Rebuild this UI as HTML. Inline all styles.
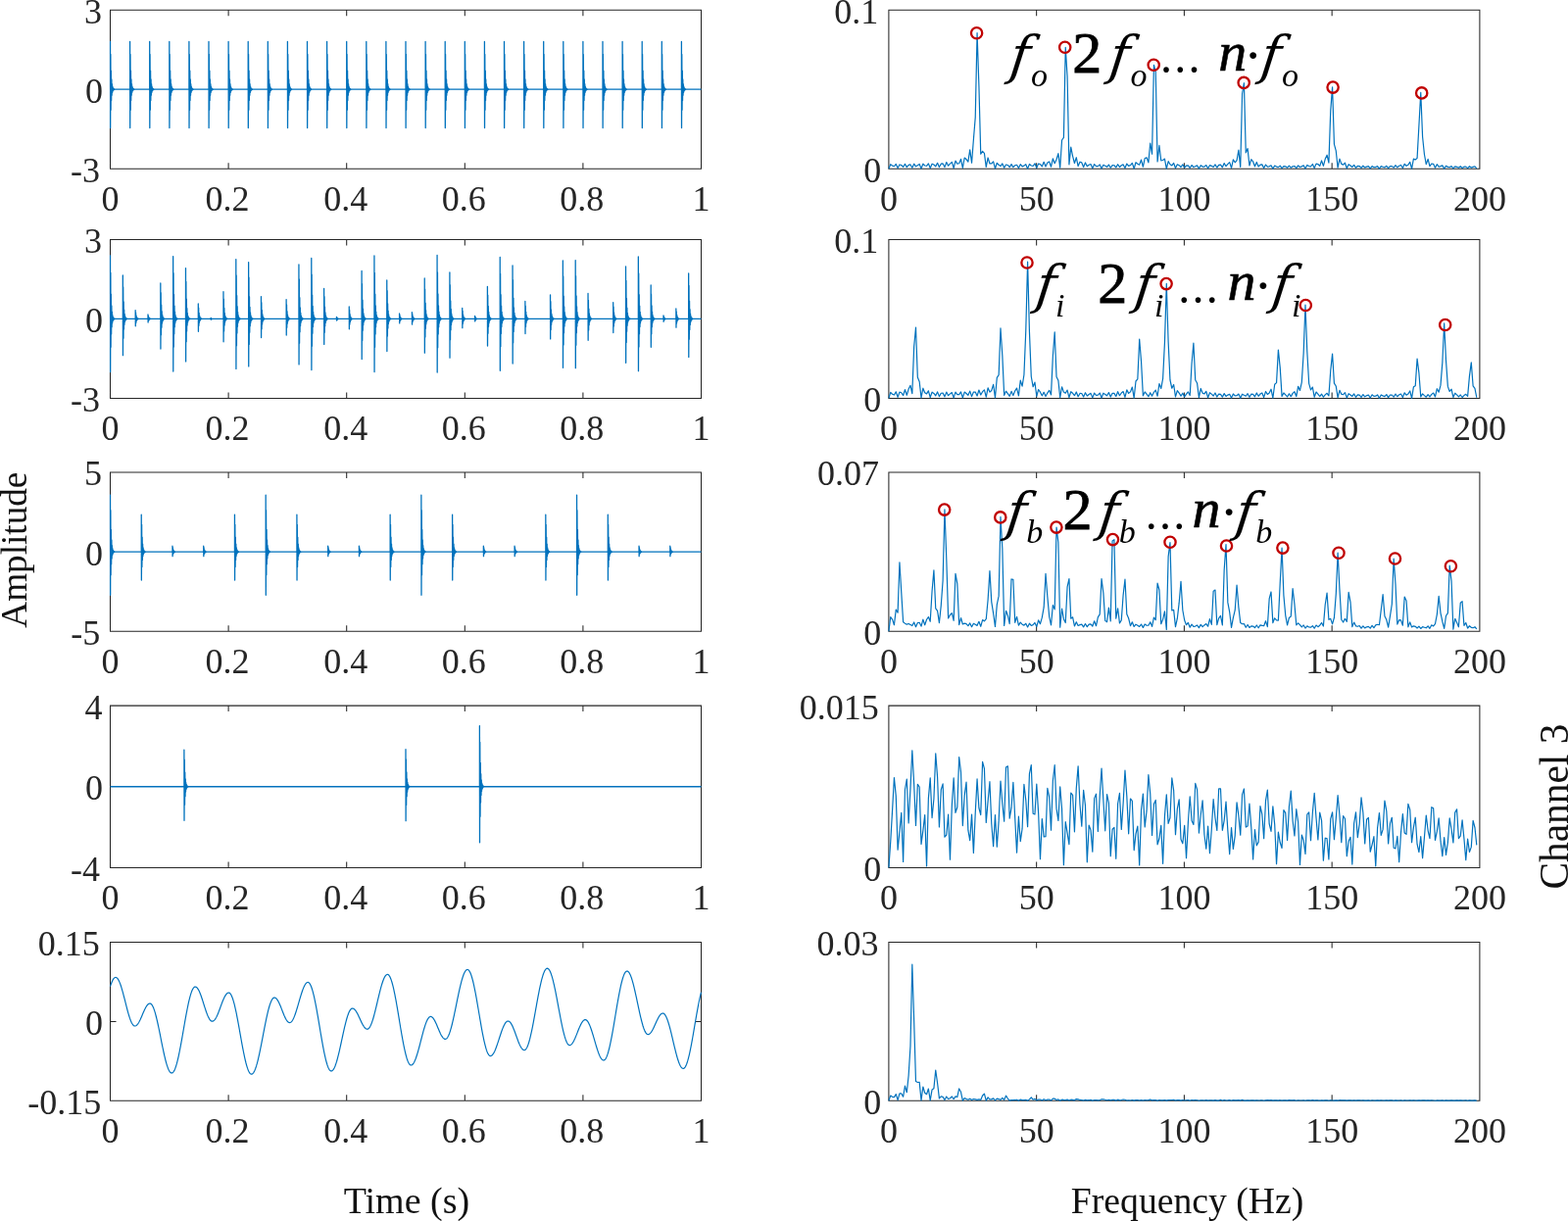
<!DOCTYPE html><html><head><meta charset="utf-8"><title>Bearing fault signals</title><style>html,body{margin:0;padding:0;background:#fff;overflow:hidden;}svg{display:block;}</style></head><body>
<svg width="1600" height="1246" viewBox="0 0 1600 1246" font-family="'Liberation Serif', 'Times New Roman', serif" font-size="36" fill="#262626">
<rect width="1600" height="1246" fill="#fff"/>
<defs>
<clipPath id="cl0"><rect x="111.5" y="9.2" width="605" height="164"/></clipPath>
<clipPath id="cr0"><rect x="905.9" y="9.2" width="605" height="164"/></clipPath>
<clipPath id="cl1"><rect x="111.5" y="243.4" width="605" height="164"/></clipPath>
<clipPath id="cr1"><rect x="905.9" y="243.4" width="605" height="164"/></clipPath>
<clipPath id="cl2"><rect x="111.5" y="481" width="605" height="164.3"/></clipPath>
<clipPath id="cr2"><rect x="905.9" y="481" width="605" height="164.3"/></clipPath>
<clipPath id="cl3"><rect x="111.5" y="719.1" width="605" height="167.3"/></clipPath>
<clipPath id="cr3"><rect x="905.9" y="719.1" width="605" height="167.3"/></clipPath>
<clipPath id="cl4"><rect x="111.5" y="960.5" width="605" height="163.8"/></clipPath>
<clipPath id="cr4"><rect x="905.9" y="960.5" width="605" height="163.8"/></clipPath>
</defs>
<path d="M112.5,10.2H715.5V172.2H112.5ZM112.5,172.2v-6M112.5,10.2v6M233.1,172.2v-6M233.1,10.2v6M353.7,172.2v-6M353.7,10.2v6M474.3,172.2v-6M474.3,10.2v6M594.9,172.2v-6M594.9,10.2v6M715.5,172.2v-6M715.5,10.2v6M112.5,10.2h6M715.5,10.2h-6M112.5,172.2h6M715.5,172.2h-6" fill="none" stroke="#262626" stroke-width="1.05"/>
<path d="M906.9,10.2H1509.9V172.2H906.9ZM906.9,172.2v-6M906.9,10.2v6M1057.65,172.2v-6M1057.65,10.2v6M1208.4,172.2v-6M1208.4,10.2v6M1359.15,172.2v-6M1359.15,10.2v6M1509.9,172.2v-6M1509.9,10.2v6M906.9,10.2h6M1509.9,10.2h-6M906.9,172.2h6M1509.9,172.2h-6" fill="none" stroke="#262626" stroke-width="1.05"/>
<path d="M112.5,244.4H715.5V406.4H112.5ZM112.5,406.4v-6M112.5,244.4v6M233.1,406.4v-6M233.1,244.4v6M353.7,406.4v-6M353.7,244.4v6M474.3,406.4v-6M474.3,244.4v6M594.9,406.4v-6M594.9,244.4v6M715.5,406.4v-6M715.5,244.4v6M112.5,244.4h6M715.5,244.4h-6M112.5,406.4h6M715.5,406.4h-6" fill="none" stroke="#262626" stroke-width="1.05"/>
<path d="M906.9,244.4H1509.9V406.4H906.9ZM906.9,406.4v-6M906.9,244.4v6M1057.65,406.4v-6M1057.65,244.4v6M1208.4,406.4v-6M1208.4,244.4v6M1359.15,406.4v-6M1359.15,244.4v6M1509.9,406.4v-6M1509.9,244.4v6M906.9,244.4h6M1509.9,244.4h-6M906.9,406.4h6M1509.9,406.4h-6" fill="none" stroke="#262626" stroke-width="1.05"/>
<path d="M112.5,482H715.5V644.3H112.5ZM112.5,644.3v-6M112.5,482v6M233.1,644.3v-6M233.1,482v6M353.7,644.3v-6M353.7,482v6M474.3,644.3v-6M474.3,482v6M594.9,644.3v-6M594.9,482v6M715.5,644.3v-6M715.5,482v6M112.5,482h6M715.5,482h-6M112.5,644.3h6M715.5,644.3h-6" fill="none" stroke="#262626" stroke-width="1.05"/>
<path d="M906.9,482H1509.9V644.3H906.9ZM906.9,644.3v-6M906.9,482v6M1057.65,644.3v-6M1057.65,482v6M1208.4,644.3v-6M1208.4,482v6M1359.15,644.3v-6M1359.15,482v6M1509.9,644.3v-6M1509.9,482v6M906.9,482h6M1509.9,482h-6M906.9,644.3h6M1509.9,644.3h-6" fill="none" stroke="#262626" stroke-width="1.05"/>
<path d="M112.5,720.1H715.5V885.4H112.5ZM112.5,885.4v-6M112.5,720.1v6M233.1,885.4v-6M233.1,720.1v6M353.7,885.4v-6M353.7,720.1v6M474.3,885.4v-6M474.3,720.1v6M594.9,885.4v-6M594.9,720.1v6M715.5,885.4v-6M715.5,720.1v6M112.5,720.1h6M715.5,720.1h-6M112.5,885.4h6M715.5,885.4h-6" fill="none" stroke="#262626" stroke-width="1.05"/>
<path d="M906.9,720.1H1509.9V885.4H906.9ZM906.9,885.4v-6M906.9,720.1v6M1057.65,885.4v-6M1057.65,720.1v6M1208.4,885.4v-6M1208.4,720.1v6M1359.15,885.4v-6M1359.15,720.1v6M1509.9,885.4v-6M1509.9,720.1v6M906.9,720.1h6M1509.9,720.1h-6M906.9,885.4h6M1509.9,885.4h-6" fill="none" stroke="#262626" stroke-width="1.05"/>
<path d="M112.5,961.5H715.5V1123.3H112.5ZM112.5,1123.3v-6M112.5,961.5v6M233.1,1123.3v-6M233.1,961.5v6M353.7,1123.3v-6M353.7,961.5v6M474.3,1123.3v-6M474.3,961.5v6M594.9,1123.3v-6M594.9,961.5v6M715.5,1123.3v-6M715.5,961.5v6M112.5,961.5h6M715.5,961.5h-6M112.5,1123.3h6M715.5,1123.3h-6M112.5,1042.4h6M715.5,1042.4h-6" fill="none" stroke="#262626" stroke-width="1.05"/>
<path d="M906.9,961.5H1509.9V1123.3H906.9ZM906.9,1123.3v-6M906.9,961.5v6M1057.65,1123.3v-6M1057.65,961.5v6M1208.4,1123.3v-6M1208.4,961.5v6M1359.15,1123.3v-6M1359.15,961.5v6M1509.9,1123.3v-6M1509.9,961.5v6M906.9,961.5h6M1509.9,961.5h-6M906.9,1123.3h6M1509.9,1123.3h-6" fill="none" stroke="#262626" stroke-width="1.05"/>
<polyline points="112.5,91.2 112.5,91.2 112.5,42.4 112.62,130.58 112.87,55.5 113.12,112.28 113.37,72.09 113.62,102.48 113.87,80.97 114.12,97.24 114.37,85.72 114.62,94.43 114.87,88.27 115.12,92.93 115.37,89.63 115.62,92.13 115.87,90.36 116.12,91.7 116.37,90.75 116.62,91.47 116.87,91.2 132.6,91.2 132.6,42.4 132.72,130.58 132.97,55.5 133.22,112.28 133.47,72.09 133.72,102.48 133.97,80.97 134.22,97.24 134.47,85.72 134.72,94.43 134.97,88.27 135.22,92.93 135.47,89.63 135.72,92.13 135.97,90.36 136.22,91.7 136.47,90.75 136.72,91.47 136.97,91.2 152.7,91.2 152.7,42.4 152.82,130.58 153.07,55.5 153.32,112.28 153.57,72.09 153.82,102.48 154.07,80.97 154.32,97.24 154.57,85.72 154.82,94.43 155.07,88.27 155.32,92.93 155.57,89.63 155.82,92.13 156.07,90.36 156.32,91.7 156.57,90.75 156.82,91.47 157.07,91.2 172.8,91.2 172.8,42.4 172.92,130.58 173.17,55.5 173.42,112.28 173.67,72.09 173.92,102.48 174.17,80.97 174.42,97.24 174.67,85.72 174.92,94.43 175.17,88.27 175.42,92.93 175.67,89.63 175.92,92.13 176.17,90.36 176.42,91.7 176.67,90.75 176.92,91.47 177.17,91.2 192.9,91.2 192.9,42.4 193.02,130.58 193.27,55.5 193.52,112.28 193.77,72.09 194.02,102.48 194.27,80.97 194.52,97.24 194.77,85.72 195.02,94.43 195.27,88.27 195.52,92.93 195.77,89.63 196.02,92.13 196.27,90.36 196.52,91.7 196.77,90.75 197.02,91.47 197.27,91.2 213,91.2 213,42.4 213.12,130.58 213.37,55.5 213.62,112.28 213.87,72.09 214.12,102.48 214.37,80.97 214.62,97.24 214.87,85.72 215.12,94.43 215.37,88.27 215.62,92.93 215.87,89.63 216.12,92.13 216.37,90.36 216.62,91.7 216.87,90.75 217.12,91.47 217.37,91.2 233.1,91.2 233.1,42.4 233.22,130.58 233.47,55.5 233.72,112.28 233.97,72.09 234.22,102.48 234.47,80.97 234.72,97.24 234.97,85.72 235.22,94.43 235.47,88.27 235.72,92.93 235.97,89.63 236.22,92.13 236.47,90.36 236.72,91.7 236.97,90.75 237.22,91.47 237.47,91.2 253.2,91.2 253.2,42.4 253.32,130.58 253.57,55.5 253.82,112.28 254.07,72.09 254.32,102.48 254.57,80.97 254.82,97.24 255.07,85.72 255.32,94.43 255.57,88.27 255.82,92.93 256.07,89.63 256.32,92.13 256.57,90.36 256.82,91.7 257.07,90.75 257.32,91.47 257.57,91.2 273.3,91.2 273.3,42.4 273.42,130.58 273.67,55.5 273.92,112.28 274.17,72.09 274.42,102.48 274.67,80.97 274.92,97.24 275.17,85.72 275.42,94.43 275.67,88.27 275.92,92.93 276.17,89.63 276.42,92.13 276.67,90.36 276.92,91.7 277.17,90.75 277.42,91.47 277.67,91.2 293.4,91.2 293.4,42.4 293.52,130.58 293.77,55.5 294.02,112.28 294.27,72.09 294.52,102.48 294.77,80.97 295.02,97.24 295.27,85.72 295.52,94.43 295.77,88.27 296.02,92.93 296.27,89.63 296.52,92.13 296.77,90.36 297.02,91.7 297.27,90.75 297.52,91.47 297.77,91.2 313.5,91.2 313.5,42.4 313.62,130.58 313.87,55.5 314.12,112.28 314.37,72.09 314.62,102.48 314.87,80.97 315.12,97.24 315.37,85.72 315.62,94.43 315.87,88.27 316.12,92.93 316.37,89.63 316.62,92.13 316.87,90.36 317.12,91.7 317.37,90.75 317.62,91.47 317.87,91.2 333.6,91.2 333.6,42.4 333.72,130.58 333.97,55.5 334.22,112.28 334.47,72.09 334.72,102.48 334.97,80.97 335.22,97.24 335.47,85.72 335.72,94.43 335.97,88.27 336.22,92.93 336.47,89.63 336.72,92.13 336.97,90.36 337.22,91.7 337.47,90.75 337.72,91.47 337.97,91.2 353.7,91.2 353.7,42.4 353.82,130.58 354.07,55.5 354.32,112.28 354.57,72.09 354.82,102.48 355.07,80.97 355.32,97.24 355.57,85.72 355.82,94.43 356.07,88.27 356.32,92.93 356.57,89.63 356.82,92.13 357.07,90.36 357.32,91.7 357.57,90.75 357.82,91.47 358.07,91.2 373.8,91.2 373.8,42.4 373.92,130.58 374.17,55.5 374.42,112.28 374.67,72.09 374.92,102.48 375.17,80.97 375.42,97.24 375.67,85.72 375.92,94.43 376.17,88.27 376.42,92.93 376.67,89.63 376.92,92.13 377.17,90.36 377.42,91.7 377.67,90.75 377.92,91.47 378.17,91.2 393.9,91.2 393.9,42.4 394.02,130.58 394.27,55.5 394.52,112.28 394.77,72.09 395.02,102.48 395.27,80.97 395.52,97.24 395.77,85.72 396.02,94.43 396.27,88.27 396.52,92.93 396.77,89.63 397.02,92.13 397.27,90.36 397.52,91.7 397.77,90.75 398.02,91.47 398.27,91.2 414,91.2 414,42.4 414.12,130.58 414.37,55.5 414.62,112.28 414.87,72.09 415.12,102.48 415.37,80.97 415.62,97.24 415.87,85.72 416.12,94.43 416.37,88.27 416.62,92.93 416.87,89.63 417.12,92.13 417.37,90.36 417.62,91.7 417.87,90.75 418.12,91.47 418.37,91.2 434.1,91.2 434.1,42.4 434.22,130.58 434.47,55.5 434.72,112.28 434.97,72.09 435.22,102.48 435.47,80.97 435.72,97.24 435.97,85.72 436.22,94.43 436.47,88.27 436.72,92.93 436.97,89.63 437.22,92.13 437.47,90.36 437.72,91.7 437.97,90.75 438.22,91.47 438.47,91.2 454.2,91.2 454.2,42.4 454.32,130.58 454.57,55.5 454.82,112.28 455.07,72.09 455.32,102.48 455.57,80.97 455.82,97.24 456.07,85.72 456.32,94.43 456.57,88.27 456.82,92.93 457.07,89.63 457.32,92.13 457.57,90.36 457.82,91.7 458.07,90.75 458.32,91.47 458.57,91.2 474.3,91.2 474.3,42.4 474.42,130.58 474.67,55.5 474.92,112.28 475.17,72.09 475.42,102.48 475.67,80.97 475.92,97.24 476.17,85.72 476.42,94.43 476.67,88.27 476.92,92.93 477.17,89.63 477.42,92.13 477.67,90.36 477.92,91.7 478.17,90.75 478.42,91.47 478.67,91.2 494.4,91.2 494.4,42.4 494.52,130.58 494.77,55.5 495.02,112.28 495.27,72.09 495.52,102.48 495.77,80.97 496.02,97.24 496.27,85.72 496.52,94.43 496.77,88.27 497.02,92.93 497.27,89.63 497.52,92.13 497.77,90.36 498.02,91.7 498.27,90.75 498.52,91.47 498.77,91.2 514.5,91.2 514.5,42.4 514.62,130.58 514.87,55.5 515.12,112.28 515.37,72.09 515.62,102.48 515.87,80.97 516.12,97.24 516.37,85.72 516.62,94.43 516.87,88.27 517.12,92.93 517.37,89.63 517.62,92.13 517.87,90.36 518.12,91.7 518.37,90.75 518.62,91.47 518.87,91.2 534.6,91.2 534.6,42.4 534.72,130.58 534.97,55.5 535.22,112.28 535.47,72.09 535.72,102.48 535.97,80.97 536.22,97.24 536.47,85.72 536.72,94.43 536.97,88.27 537.22,92.93 537.47,89.63 537.72,92.13 537.97,90.36 538.22,91.7 538.47,90.75 538.72,91.47 538.97,91.2 554.7,91.2 554.7,42.4 554.82,130.58 555.07,55.5 555.32,112.28 555.57,72.09 555.82,102.48 556.07,80.97 556.32,97.24 556.57,85.72 556.82,94.43 557.07,88.27 557.32,92.93 557.57,89.63 557.82,92.13 558.07,90.36 558.32,91.7 558.57,90.75 558.82,91.47 559.07,91.2 574.8,91.2 574.8,42.4 574.92,130.58 575.17,55.5 575.42,112.28 575.67,72.09 575.92,102.48 576.17,80.97 576.42,97.24 576.67,85.72 576.92,94.43 577.17,88.27 577.42,92.93 577.67,89.63 577.92,92.13 578.17,90.36 578.42,91.7 578.67,90.75 578.92,91.47 579.17,91.2 594.9,91.2 594.9,42.4 595.02,130.58 595.27,55.5 595.52,112.28 595.77,72.09 596.02,102.48 596.27,80.97 596.52,97.24 596.77,85.72 597.02,94.43 597.27,88.27 597.52,92.93 597.77,89.63 598.02,92.13 598.27,90.36 598.52,91.7 598.77,90.75 599.02,91.47 599.27,91.2 615,91.2 615,42.4 615.12,130.58 615.37,55.5 615.62,112.28 615.87,72.09 616.12,102.48 616.37,80.97 616.62,97.24 616.87,85.72 617.12,94.43 617.37,88.27 617.62,92.93 617.87,89.63 618.12,92.13 618.37,90.36 618.62,91.7 618.87,90.75 619.12,91.47 619.37,91.2 635.1,91.2 635.1,42.4 635.22,130.58 635.47,55.5 635.72,112.28 635.97,72.09 636.22,102.48 636.47,80.97 636.72,97.24 636.97,85.72 637.22,94.43 637.47,88.27 637.72,92.93 637.97,89.63 638.22,92.13 638.47,90.36 638.72,91.7 638.97,90.75 639.22,91.47 639.47,91.2 655.2,91.2 655.2,42.4 655.32,130.58 655.57,55.5 655.82,112.28 656.07,72.09 656.32,102.48 656.57,80.97 656.82,97.24 657.07,85.72 657.32,94.43 657.57,88.27 657.82,92.93 658.07,89.63 658.32,92.13 658.57,90.36 658.82,91.7 659.07,90.75 659.32,91.47 659.57,91.2 675.3,91.2 675.3,42.4 675.42,130.58 675.67,55.5 675.92,112.28 676.17,72.09 676.42,102.48 676.67,80.97 676.92,97.24 677.17,85.72 677.42,94.43 677.67,88.27 677.92,92.93 678.17,89.63 678.42,92.13 678.67,90.36 678.92,91.7 679.17,90.75 679.42,91.47 679.67,91.2 695.4,91.2 695.4,42.4 695.52,130.58 695.77,55.5 696.02,112.28 696.27,72.09 696.52,102.48 696.77,80.97 697.02,97.24 697.27,85.72 697.52,94.43 697.77,88.27 698.02,92.93 698.27,89.63 698.52,92.13 698.77,90.36 699.02,91.7 699.27,90.75 699.52,91.47 699.77,91.2 715.5,91.2" fill="none" stroke="#0072BD" stroke-width="1.3" stroke-linejoin="round" clip-path="url(#cl0)"/>
<polyline points="112.5,325.4 112.5,325.4 112.5,261 112.62,379.5 112.87,278.28 113.12,354.36 113.37,300.18 113.62,340.9 113.87,311.9 114.12,333.7 114.37,318.17 114.62,329.84 114.87,321.53 115.12,327.78 115.37,323.33 115.62,326.67 115.87,324.29 116.12,326.08 116.37,324.81 116.62,325.76 116.87,325.08 117.12,325.4 125.33,325.4 125.33,281 125.45,362.7 125.7,292.92 125.95,345.36 126.2,308.01 126.45,336.09 126.7,316.09 126.95,331.12 127.2,320.42 127.45,328.46 127.7,322.73 127.95,327.04 128.2,323.97 128.45,326.28 128.7,324.64 128.95,325.87 129.2,324.99 129.45,325.65 129.7,325.4 138.16,325.4 138.16,316.6 138.28,332.79 138.53,318.96 138.78,329.36 139.03,321.95 139.28,327.52 139.53,323.56 139.78,326.53 140.03,324.41 140.28,326.01 140.53,324.87 140.78,325.72 141.03,325.12 141.28,325.4 150.99,325.4 150.99,321 151.11,329.1 151.36,322.18 151.61,327.38 151.86,323.68 152.11,326.46 152.36,324.48 152.61,325.97 152.86,324.91 153.11,325.7 153.36,325.14 153.61,325.4 163.82,325.4 163.82,289 163.94,355.98 164.19,298.77 164.44,341.77 164.69,311.15 164.94,334.16 165.19,317.77 165.44,330.09 165.69,321.32 165.94,327.91 166.19,323.21 166.44,326.74 166.69,324.23 166.94,326.12 167.19,324.77 167.44,325.78 167.69,325.06 167.94,325.4 176.65,325.4 176.65,261.6 176.77,378.99 177.02,278.72 177.27,354.09 177.52,300.42 177.77,340.75 178.02,312.03 178.27,333.62 178.52,318.24 178.77,329.8 179.02,321.57 179.27,327.75 179.52,323.35 179.77,326.66 180.02,324.3 180.27,326.07 180.52,324.81 180.77,325.76 181.02,325.09 181.27,325.4 189.48,325.4 189.48,273.6 189.6,368.91 189.85,287.5 190.1,348.69 190.35,305.11 190.6,337.87 190.85,314.54 191.1,332.07 191.35,319.59 191.6,328.97 191.85,322.29 192.1,327.31 192.35,323.73 192.6,326.42 192.85,324.51 193.1,325.95 193.35,324.92 193.6,325.69 193.85,325.14 194.1,325.4 202.31,325.4 202.31,310 202.43,338.34 202.68,314.13 202.93,332.32 203.18,319.37 203.43,329.11 203.68,322.17 203.93,327.38 204.18,323.67 204.43,326.46 204.68,324.48 204.93,325.97 205.18,324.9 205.43,325.7 205.68,325.14 205.93,325.4 215.14,325.4 215.14,324.4 215.26,326.24 215.51,324.67 215.76,325.85 216.01,325.01 216.26,325.64 216.51,325.4 227.97,325.4 227.97,297.6 228.09,348.75 228.34,305.06 228.59,337.9 228.84,314.51 229.09,332.09 229.34,319.57 229.59,328.98 229.84,322.28 230.09,327.32 230.34,323.73 230.59,326.43 230.84,324.51 231.09,325.95 231.34,324.92 231.59,325.69 231.84,325.14 232.09,325.4 240.8,325.4 240.8,264.6 240.92,376.47 241.17,280.92 241.42,352.74 241.67,301.59 241.92,340.03 242.17,312.66 242.42,333.23 242.67,318.58 242.92,329.59 243.17,321.75 243.42,327.64 243.67,323.45 243.92,326.6 244.17,324.35 244.42,326.04 244.67,324.84 244.92,325.74 245.17,325.1 245.42,325.4 253.63,325.4 253.63,267.6 253.75,373.95 254,283.11 254.25,351.39 254.5,302.77 254.75,339.31 255,313.28 255.25,332.85 255.5,318.92 255.75,329.39 256,321.93 256.25,327.53 256.5,323.54 256.75,326.54 257,324.41 257.25,326.01 257.5,324.87 257.75,325.73 258,325.12 258.25,325.4 266.46,325.4 266.46,302.6 266.58,344.55 266.83,308.72 267.08,335.65 267.33,316.47 267.58,330.89 267.83,320.62 268.08,328.34 268.33,322.84 268.58,326.97 268.83,324.03 269.08,326.24 269.33,324.67 269.58,325.85 269.83,325.01 270.08,325.64 270.33,325.4 292.12,325.4 292.12,305.6 292.24,342.03 292.49,310.91 292.74,334.3 292.99,317.65 293.24,330.17 293.49,321.25 293.74,327.95 293.99,323.18 294.24,326.77 294.49,324.21 294.74,326.13 294.99,324.76 295.24,325.79 295.49,325.06 295.74,325.4 304.95,325.4 304.95,270 305.07,371.94 305.32,284.87 305.57,350.31 305.82,303.71 306.07,338.73 306.32,313.79 306.57,332.54 306.82,319.18 307.07,329.22 307.32,322.07 307.57,327.44 307.82,323.62 308.07,326.49 308.32,324.45 308.57,325.99 308.82,324.89 309.07,325.71 309.32,325.13 309.57,325.4 317.78,325.4 317.78,263.4 317.9,377.48 318.15,280.04 318.4,353.28 318.65,301.12 318.9,340.32 319.15,312.4 319.4,333.39 319.65,318.44 319.9,329.67 320.15,321.68 320.4,327.69 320.65,323.41 320.9,326.62 321.15,324.33 321.4,326.06 321.65,324.83 321.9,325.75 322.15,325.09 322.4,325.4 330.61,325.4 330.61,294.4 330.73,351.44 330.98,302.72 331.23,339.34 331.48,313.26 331.73,332.86 331.98,318.9 332.23,329.39 332.48,321.92 332.73,327.54 332.98,323.54 333.23,326.54 333.48,324.4 333.73,326.01 333.98,324.87 334.23,325.73 334.48,325.11 334.73,325.4 343.44,325.4 343.44,323.4 343.56,327.08 343.81,323.94 344.06,326.3 344.31,324.62 344.56,325.88 344.81,324.98 345.06,325.66 345.31,325.4 356.27,325.4 356.27,313 356.39,335.82 356.64,316.33 356.89,330.98 357.14,320.54 357.39,328.38 357.64,322.8 357.89,327 358.14,324.01 358.39,326.25 358.64,324.66 358.89,325.86 359.14,325 359.39,325.64 359.64,325.4 369.1,325.4 369.1,276.4 369.22,366.56 369.47,289.55 369.72,347.43 369.97,306.21 370.22,337.19 370.47,315.13 370.72,331.71 370.97,319.9 371.22,328.78 371.47,322.46 371.72,327.21 371.97,323.82 372.22,326.37 372.47,324.56 372.72,325.92 372.97,324.95 373.22,325.68 373.47,325.4 381.93,325.4 381.93,261 382.05,379.5 382.3,278.28 382.55,354.36 382.8,300.18 383.05,340.9 383.3,311.9 383.55,333.7 383.8,318.17 384.05,329.84 384.3,321.53 384.55,327.78 384.8,323.33 385.05,326.67 385.3,324.29 385.55,326.08 385.8,324.81 386.05,325.76 386.3,325.08 386.55,325.4 394.76,325.4 394.76,286 394.88,358.5 395.13,296.57 395.38,343.12 395.63,309.97 395.88,334.88 396.13,317.14 396.38,330.48 396.63,320.98 396.88,328.12 397.13,323.03 397.38,326.85 397.63,324.13 397.88,326.18 398.13,324.72 398.38,325.82 398.63,325.04 398.88,325.62 399.13,325.4 407.59,325.4 407.59,320 407.71,329.94 407.96,321.45 408.21,327.83 408.46,323.29 408.71,326.7 408.96,324.27 409.21,326.1 409.46,324.79 409.71,325.77 409.96,325.08 410.21,325.4 420.41,325.4 420.41,318.6 420.53,331.11 420.78,320.43 421.03,328.46 421.28,322.74 421.53,327.04 421.78,323.97 422.03,326.28 422.28,324.64 422.53,325.87 422.78,324.99 423.03,325.65 423.28,325.4 433.24,325.4 433.24,284 433.36,360.18 433.61,295.11 433.86,344.01 434.11,309.19 434.36,335.36 434.61,316.72 434.86,330.73 435.11,320.76 435.36,328.25 435.61,322.91 435.86,326.93 436.11,324.07 436.36,326.22 436.61,324.69 436.86,325.84 437.11,325.02 437.36,325.63 437.61,325.4 446.07,325.4 446.07,260.4 446.19,380 446.44,277.84 446.69,354.63 446.94,299.95 447.19,341.04 447.44,311.78 447.69,333.77 447.94,318.11 448.19,329.88 448.44,321.5 448.69,327.8 448.94,323.31 449.19,326.68 449.44,324.28 449.69,326.09 449.94,324.8 450.19,325.77 450.44,325.08 450.69,325.4 458.9,325.4 458.9,278 459.02,365.22 459.27,290.72 459.52,346.71 459.77,306.84 460.02,336.81 460.27,315.46 460.52,331.51 460.77,320.08 461.02,328.67 461.27,322.55 461.52,327.15 461.77,323.88 462.02,326.34 462.27,324.58 462.52,325.9 462.77,324.96 463.02,325.67 463.27,325.4 471.73,325.4 471.73,314.4 471.85,334.64 472.1,317.35 472.35,330.35 472.6,321.09 472.85,328.05 473.1,323.09 473.35,326.82 473.6,324.17 473.85,326.16 474.1,324.74 474.35,325.81 474.6,325.05 474.85,325.62 475.1,325.4 484.56,325.4 484.56,322.4 484.68,327.92 484.93,323.21 485.18,326.75 485.43,324.23 485.68,326.12 485.93,324.77 486.18,325.79 486.43,325.06 486.68,325.4 497.39,325.4 497.39,292.4 497.51,353.12 497.76,301.26 498.01,340.24 498.26,312.48 498.51,333.34 498.76,318.48 499.01,329.65 499.26,321.7 499.51,327.68 499.76,323.42 500.01,326.62 500.26,324.34 500.51,326.05 500.76,324.83 501.01,325.75 501.26,325.1 501.51,325.4 510.22,325.4 510.22,262.4 510.34,378.32 510.59,279.31 510.84,353.73 511.09,300.73 511.34,340.56 511.59,312.19 511.84,333.52 512.09,318.33 512.34,329.74 512.59,321.62 512.84,327.73 513.09,323.37 513.34,326.64 513.59,324.32 513.84,326.07 514.09,324.82 514.34,325.76 514.59,325.09 514.84,325.4 523.05,325.4 523.05,271 523.17,371.1 523.42,285.6 523.67,349.86 523.92,304.1 524.17,338.49 524.42,314 524.67,332.41 524.92,319.3 525.17,329.15 525.42,322.13 525.67,327.41 525.92,323.65 526.17,326.47 526.42,324.46 526.67,325.98 526.92,324.9 527.17,325.71 527.42,325.13 527.67,325.4 535.88,325.4 535.88,307.4 536,340.52 536.25,312.23 536.5,333.49 536.75,318.35 537,329.73 537.25,321.63 537.5,327.72 537.75,323.38 538,326.64 538.25,324.32 538.5,326.06 538.75,324.82 539,325.76 539.25,325.09 539.5,325.4 561.54,325.4 561.54,301 561.66,345.9 561.91,307.55 562.16,336.37 562.41,315.84 562.66,331.27 562.91,320.29 563.16,328.54 563.41,322.66 563.66,327.08 563.91,323.93 564.16,326.3 564.41,324.62 564.66,325.88 564.91,324.98 565.16,325.66 565.41,325.4 574.37,325.4 574.37,266 574.49,375.3 574.74,281.94 574.99,352.11 575.24,302.14 575.49,339.7 575.74,312.95 575.99,333.05 576.24,318.74 576.49,329.5 576.74,321.83 576.99,327.59 577.24,323.49 577.49,326.57 577.74,324.38 577.99,326.03 578.24,324.85 578.49,325.74 578.74,325.11 578.99,325.4 587.2,325.4 587.2,265.6 587.32,375.63 587.57,281.65 587.82,352.29 588.07,301.98 588.32,339.79 588.57,312.87 588.82,333.1 589.07,318.69 589.32,329.52 589.57,321.81 589.82,327.61 590.07,323.48 590.32,326.58 590.57,324.37 590.82,326.03 591.07,324.85 591.32,325.74 591.57,325.11 591.82,325.4 600.03,325.4 600.03,299.4 600.15,347.24 600.4,306.38 600.65,337.09 600.9,315.22 601.15,331.66 601.4,319.95 601.65,328.75 601.9,322.48 602.15,327.19 602.4,323.84 602.65,326.36 602.9,324.56 603.15,325.91 603.4,324.95 603.65,325.67 603.9,325.4 625.69,325.4 625.69,308.6 625.81,339.51 626.06,313.11 626.31,332.95 626.56,318.82 626.81,329.44 627.06,321.88 627.31,327.56 627.56,323.52 627.81,326.56 628.06,324.39 628.31,326.02 628.56,324.86 628.81,325.73 629.06,325.11 629.31,325.4 638.52,325.4 638.52,272 638.64,370.26 638.89,286.33 639.14,349.41 639.39,304.49 639.64,338.25 639.89,314.21 640.14,332.28 640.39,319.41 640.64,329.08 640.89,322.19 641.14,327.37 641.39,323.68 641.64,326.45 641.89,324.48 642.14,325.96 642.39,324.91 642.64,325.7 642.89,325.14 643.14,325.4 651.35,325.4 651.35,262 651.47,378.66 651.72,279.02 651.97,353.91 652.22,300.57 652.47,340.66 652.72,312.11 652.97,333.57 653.22,318.29 653.47,329.77 653.72,321.59 653.97,327.74 654.22,323.36 654.47,326.65 654.72,324.31 654.97,326.07 655.22,324.82 655.47,325.76 655.72,325.09 655.97,325.4 664.18,325.4 664.18,291 664.3,354.3 664.55,300.23 664.8,340.87 665.05,311.93 665.3,333.68 665.55,318.19 665.8,329.83 666.05,321.54 666.3,327.77 666.55,323.33 666.8,326.67 667.05,324.29 667.3,326.08 667.55,324.81 667.8,325.76 668.05,325.08 668.3,325.4 677.01,325.4 677.01,322 677.13,328.26 677.38,322.91 677.63,326.93 677.88,324.07 678.13,326.22 678.38,324.69 678.63,325.84 678.88,325.02 679.13,325.63 679.38,325.4 689.84,325.4 689.84,315 689.96,334.14 690.21,317.79 690.46,330.08 690.71,321.33 690.96,327.9 691.21,323.22 691.46,326.74 691.71,324.23 691.96,326.12 692.21,324.78 692.46,325.78 692.71,325.07 692.96,325.4 702.67,325.4 702.67,279 702.79,364.38 703.04,291.45 703.29,346.26 703.54,307.23 703.79,336.57 704.04,315.67 704.29,331.38 704.54,320.19 704.79,328.6 705.04,322.61 705.29,327.11 705.54,323.91 705.79,326.32 706.04,324.6 706.29,325.89 706.54,324.97 706.79,325.66 707.04,325.4 715.5,325.4" fill="none" stroke="#0072BD" stroke-width="1.3" stroke-linejoin="round" clip-path="url(#cl1)"/>
<polyline points="112.5,563.15 112.5,563.15 112.5,505.15 112.62,607.23 112.87,520.72 113.12,586.74 113.37,540.44 113.62,575.78 113.87,550.99 114.12,569.91 114.37,556.64 114.62,566.77 114.87,559.67 115.12,565.09 115.37,561.29 115.62,564.19 115.87,562.15 116.12,563.7 116.37,562.62 116.62,563.45 116.87,562.86 117.12,563.15 144.24,563.15 144.24,525.15 144.36,592.03 144.61,535.35 144.86,578.61 145.11,548.27 145.36,571.42 145.61,555.18 145.86,567.58 146.11,558.89 146.36,565.52 146.61,560.87 146.86,564.42 147.11,561.93 147.36,563.83 147.61,562.5 147.86,563.51 148.11,562.8 148.36,563.34 148.61,563.15 175.97,563.15 175.97,557.15 176.09,567.71 176.34,558.76 176.59,565.59 176.84,560.8 177.09,564.46 177.34,561.89 177.59,563.85 177.84,562.48 178.09,563.52 178.34,562.79 178.59,563.35 178.84,563.15 207.71,563.15 207.71,557.15 207.83,567.71 208.08,558.76 208.33,565.59 208.58,560.8 208.83,564.46 209.08,561.89 209.33,563.85 209.58,562.48 209.83,563.52 210.08,562.79 210.33,563.35 210.58,563.15 239.45,563.15 239.45,525.15 239.57,592.03 239.82,535.35 240.07,578.61 240.32,548.27 240.57,571.42 240.82,555.18 241.07,567.58 241.32,558.89 241.57,565.52 241.82,560.87 242.07,564.42 242.32,561.93 242.57,563.83 242.82,562.5 243.07,563.51 243.32,562.8 243.57,563.34 243.82,563.15 271.18,563.15 271.18,505.15 271.3,607.23 271.55,520.72 271.8,586.74 272.05,540.44 272.3,575.78 272.55,550.99 272.8,569.91 273.05,556.64 273.3,566.77 273.55,559.67 273.8,565.09 274.05,561.29 274.3,564.19 274.55,562.15 274.8,563.7 275.05,562.62 275.3,563.45 275.55,562.86 275.8,563.15 302.92,563.15 302.92,525.15 303.04,592.03 303.29,535.35 303.54,578.61 303.79,548.27 304.04,571.42 304.29,555.18 304.54,567.58 304.79,558.89 305.04,565.52 305.29,560.87 305.54,564.42 305.79,561.93 306.04,563.83 306.29,562.5 306.54,563.51 306.79,562.8 307.04,563.34 307.29,563.15 334.66,563.15 334.66,557.15 334.78,567.71 335.03,558.76 335.28,565.59 335.53,560.8 335.78,564.46 336.03,561.89 336.28,563.85 336.53,562.48 336.78,563.52 337.03,562.79 337.28,563.35 337.53,563.15 366.39,563.15 366.39,557.15 366.51,567.71 366.76,558.76 367.01,565.59 367.26,560.8 367.51,564.46 367.76,561.89 368.01,563.85 368.26,562.48 368.51,563.52 368.76,562.79 369.01,563.35 369.26,563.15 398.13,563.15 398.13,525.15 398.25,592.03 398.5,535.35 398.75,578.61 399,548.27 399.25,571.42 399.5,555.18 399.75,567.58 400,558.89 400.25,565.52 400.5,560.87 400.75,564.42 401,561.93 401.25,563.83 401.5,562.5 401.75,563.51 402,562.8 402.25,563.34 402.5,563.15 429.87,563.15 429.87,505.15 429.99,607.23 430.24,520.72 430.49,586.74 430.74,540.44 430.99,575.78 431.24,550.99 431.49,569.91 431.74,556.64 431.99,566.77 432.24,559.67 432.49,565.09 432.74,561.29 432.99,564.19 433.24,562.15 433.49,563.7 433.74,562.62 433.99,563.45 434.24,562.86 434.49,563.15 461.61,563.15 461.61,525.15 461.73,592.03 461.98,535.35 462.23,578.61 462.48,548.27 462.73,571.42 462.98,555.18 463.23,567.58 463.48,558.89 463.73,565.52 463.98,560.87 464.23,564.42 464.48,561.93 464.73,563.83 464.98,562.5 465.23,563.51 465.48,562.8 465.73,563.34 465.98,563.15 493.34,563.15 493.34,557.15 493.46,567.71 493.71,558.76 493.96,565.59 494.21,560.8 494.46,564.46 494.71,561.89 494.96,563.85 495.21,562.48 495.46,563.52 495.71,562.79 495.96,563.35 496.21,563.15 525.08,563.15 525.08,557.15 525.2,567.71 525.45,558.76 525.7,565.59 525.95,560.8 526.2,564.46 526.45,561.89 526.7,563.85 526.95,562.48 527.2,563.52 527.45,562.79 527.7,563.35 527.95,563.15 556.82,563.15 556.82,525.15 556.94,592.03 557.19,535.35 557.44,578.61 557.69,548.27 557.94,571.42 558.19,555.18 558.44,567.58 558.69,558.89 558.94,565.52 559.19,560.87 559.44,564.42 559.69,561.93 559.94,563.83 560.19,562.5 560.44,563.51 560.69,562.8 560.94,563.34 561.19,563.15 588.55,563.15 588.55,505.15 588.67,607.23 588.92,520.72 589.17,586.74 589.42,540.44 589.67,575.78 589.92,550.99 590.17,569.91 590.42,556.64 590.67,566.77 590.92,559.67 591.17,565.09 591.42,561.29 591.67,564.19 591.92,562.15 592.17,563.7 592.42,562.62 592.67,563.45 592.92,562.86 593.17,563.15 620.29,563.15 620.29,525.15 620.41,592.03 620.66,535.35 620.91,578.61 621.16,548.27 621.41,571.42 621.66,555.18 621.91,567.58 622.16,558.89 622.41,565.52 622.66,560.87 622.91,564.42 623.16,561.93 623.41,563.83 623.66,562.5 623.91,563.51 624.16,562.8 624.41,563.34 624.66,563.15 652.03,563.15 652.03,557.15 652.15,567.71 652.4,558.76 652.65,565.59 652.9,560.8 653.15,564.46 653.4,561.89 653.65,563.85 653.9,562.48 654.15,563.52 654.4,562.79 654.65,563.35 654.9,563.15 683.76,563.15 683.76,557.15 683.88,567.71 684.13,558.76 684.38,565.59 684.63,560.8 684.88,564.46 685.13,561.89 685.38,563.85 685.63,562.48 685.88,563.52 686.13,562.79 686.38,563.35 686.63,563.15 715.5,563.15" fill="none" stroke="#0072BD" stroke-width="1.3" stroke-linejoin="round" clip-path="url(#cl2)"/>
<polyline points="112.5,802.75 187.88,802.75 187.88,765.15 188,837.34 188.25,775.24 188.5,821.27 188.75,788.03 189,812.66 189.25,794.87 189.5,808.05 189.75,798.53 190,805.59 190.25,800.49 190.5,804.27 190.75,801.54 191,803.56 191.25,802.1 191.5,803.19 191.75,802.4 192,802.98 192.25,802.75 414,802.75 414,764.75 414.12,837.71 414.37,774.95 414.62,821.46 414.87,787.87 415.12,812.77 415.37,794.78 415.62,808.11 415.87,798.49 416.12,805.62 416.37,800.47 416.62,804.29 416.87,801.53 417.12,803.57 417.37,802.1 417.62,803.19 417.87,802.4 418.12,802.99 418.37,802.75 489.38,802.75 489.38,740.75 489.5,859.79 489.75,757.39 490,833.28 490.25,778.47 490.5,819.09 490.75,789.75 491,811.5 491.25,795.79 491.5,807.43 491.75,799.03 492,805.26 492.25,800.76 492.5,804.09 492.75,801.68 493,803.47 493.25,802.18 493.5,803.13 493.75,802.44 494,802.75 715.5,802.75" fill="none" stroke="#0072BD" stroke-width="1.3" stroke-linejoin="round" clip-path="url(#cl3)"/>
<polyline points="112.5,1006.62 112.5,1006.62 113,1005.1 113.5,1003.7 114,1002.42 114.5,1001.28 115,1000.27 115.5,999.4 116,998.69 116.5,998.13 117,997.72 117.5,997.48 118,997.4 118.5,997.48 119.01,997.72 119.51,998.12 120.01,998.68 120.51,999.38 121.02,1000.24 121.52,1001.24 122.02,1002.37 122.52,1003.64 123.03,1005.02 123.53,1006.52 124.03,1008.11 124.53,1009.8 125.04,1011.57 125.54,1013.41 126.04,1015.3 126.54,1017.24 127.05,1019.21 127.55,1021.2 128.05,1023.2 128.55,1025.19 129.06,1027.16 129.56,1029.1 130.06,1030.99 130.56,1032.83 131.07,1034.6 131.57,1036.29 132.07,1037.88 132.57,1039.38 133.08,1040.76 133.58,1042.03 134.08,1043.16 134.58,1044.16 135.09,1045.02 135.59,1045.72 136.09,1046.28 136.59,1046.68 137.1,1046.92 137.6,1047 138.11,1046.94 138.63,1046.75 139.14,1046.44 139.65,1046.01 140.17,1045.46 140.68,1044.8 141.19,1044.05 141.71,1043.2 142.22,1042.26 142.73,1041.25 143.25,1040.18 143.76,1039.05 144.27,1037.89 144.79,1036.7 145.3,1035.5 145.81,1034.3 146.33,1033.11 146.84,1031.95 147.35,1030.82 147.87,1029.75 148.38,1028.74 148.89,1027.8 149.41,1026.95 149.92,1026.2 150.43,1025.54 150.95,1024.99 151.46,1024.56 151.97,1024.25 152.49,1024.06 153,1024 153.5,1024.09 154.01,1024.36 154.51,1024.81 155.02,1025.44 155.52,1026.24 156.03,1027.21 156.53,1028.34 157.04,1029.64 157.54,1031.08 158.05,1032.67 158.55,1034.4 159.05,1036.25 159.56,1038.23 160.06,1040.31 160.57,1042.49 161.07,1044.75 161.58,1047.09 162.08,1049.5 162.59,1051.95 163.09,1054.45 163.6,1056.97 164.1,1059.5 164.6,1062.03 165.11,1064.55 165.61,1067.05 166.12,1069.5 166.62,1071.91 167.13,1074.25 167.63,1076.51 168.14,1078.69 168.64,1080.77 169.15,1082.75 169.65,1084.6 170.15,1086.33 170.66,1087.92 171.16,1089.36 171.67,1090.66 172.17,1091.79 172.68,1092.76 173.18,1093.56 173.69,1094.19 174.19,1094.64 174.7,1094.91 175.2,1095 175.7,1094.91 176.2,1094.62 176.7,1094.15 177.2,1093.5 177.7,1092.66 178.2,1091.65 178.7,1090.46 179.2,1089.11 179.7,1087.58 180.2,1085.91 180.7,1084.08 181.2,1082.11 181.7,1080.01 182.2,1077.79 182.7,1075.45 183.2,1073 183.7,1070.46 184.2,1067.84 184.7,1065.14 185.2,1062.39 185.7,1059.58 186.2,1056.74 186.7,1053.88 187.2,1051 187.7,1048.12 188.2,1045.26 188.7,1042.42 189.2,1039.61 189.7,1036.86 190.2,1034.16 190.7,1031.54 191.2,1029 191.7,1026.55 192.2,1024.21 192.7,1021.99 193.2,1019.89 193.7,1017.92 194.2,1016.09 194.7,1014.42 195.2,1012.89 195.7,1011.54 196.2,1010.35 196.7,1009.34 197.2,1008.5 197.7,1007.85 198.2,1007.38 198.7,1007.09 199.2,1007 199.71,1007.08 200.22,1007.3 200.74,1007.67 201.25,1008.19 201.76,1008.85 202.27,1009.64 202.78,1010.55 203.29,1011.59 203.81,1012.74 204.32,1013.99 204.83,1015.33 205.34,1016.76 205.85,1018.24 206.36,1019.78 206.88,1021.37 207.39,1022.98 207.9,1024.6 208.41,1026.22 208.92,1027.83 209.44,1029.42 209.95,1030.96 210.46,1032.44 210.97,1033.87 211.48,1035.21 211.99,1036.46 212.51,1037.61 213.02,1038.65 213.53,1039.56 214.04,1040.35 214.55,1041.01 215.06,1041.53 215.58,1041.9 216.09,1042.12 216.6,1042.2 217.11,1042.13 217.62,1041.94 218.13,1041.61 218.64,1041.15 219.15,1040.58 219.65,1039.88 220.16,1039.08 220.67,1038.17 221.18,1037.16 221.69,1036.07 222.2,1034.9 222.71,1033.67 223.22,1032.38 223.73,1031.04 224.24,1029.68 224.75,1028.29 225.25,1026.91 225.76,1025.52 226.27,1024.16 226.78,1022.82 227.29,1021.53 227.8,1020.3 228.31,1019.13 228.82,1018.04 229.33,1017.03 229.84,1016.12 230.35,1015.32 230.85,1014.62 231.36,1014.05 231.87,1013.59 232.38,1013.26 232.89,1013.07 233.4,1013 233.9,1013.1 234.41,1013.39 234.91,1013.87 235.42,1014.54 235.92,1015.4 236.43,1016.44 236.93,1017.66 237.43,1019.06 237.94,1020.61 238.44,1022.33 238.95,1024.2 239.45,1026.21 239.96,1028.35 240.46,1030.61 240.97,1032.99 241.47,1035.46 241.97,1038.03 242.48,1040.67 242.98,1043.38 243.49,1046.14 243.99,1048.94 244.5,1051.76 245,1054.6 245.5,1057.44 246.01,1060.26 246.51,1063.06 247.02,1065.82 247.52,1068.53 248.03,1071.17 248.53,1073.74 249.03,1076.21 249.54,1078.59 250.04,1080.85 250.55,1082.99 251.05,1085 251.56,1086.87 252.06,1088.59 252.57,1090.14 253.07,1091.54 253.57,1092.76 254.08,1093.8 254.58,1094.66 255.09,1095.33 255.59,1095.81 256.1,1096.1 256.6,1096.2 257.11,1096.11 257.62,1095.84 258.13,1095.38 258.63,1094.75 259.14,1093.94 259.65,1092.96 260.16,1091.82 260.67,1090.51 261.18,1089.04 261.69,1087.43 262.2,1085.68 262.7,1083.79 263.21,1081.78 263.72,1079.65 264.23,1077.42 264.74,1075.09 265.25,1072.68 265.76,1070.19 266.27,1067.65 266.77,1065.06 267.28,1062.42 267.79,1059.77 268.3,1057.1 268.81,1054.43 269.32,1051.78 269.83,1049.14 270.33,1046.55 270.84,1044.01 271.35,1041.52 271.86,1039.11 272.37,1036.78 272.88,1034.55 273.39,1032.42 273.9,1030.41 274.4,1028.52 274.91,1026.77 275.42,1025.16 275.93,1023.69 276.44,1022.38 276.95,1021.24 277.46,1020.26 277.97,1019.45 278.47,1018.82 278.98,1018.36 279.49,1018.09 280,1018 280.5,1018.07 281.01,1018.26 281.51,1018.59 282.01,1019.04 282.52,1019.61 283.02,1020.29 283.52,1021.09 284.03,1021.98 284.53,1022.97 285.03,1024.03 285.54,1025.16 286.04,1026.35 286.54,1027.59 287.05,1028.86 287.55,1030.15 288.05,1031.45 288.55,1032.74 289.06,1034.01 289.56,1035.25 290.06,1036.44 290.57,1037.57 291.07,1038.63 291.57,1039.62 292.08,1040.51 292.58,1041.31 293.08,1041.99 293.59,1042.56 294.09,1043.01 294.59,1043.34 295.1,1043.53 295.6,1043.6 296.1,1043.53 296.61,1043.3 297.11,1042.94 297.61,1042.42 298.11,1041.77 298.62,1040.98 299.12,1040.07 299.62,1039.03 300.12,1037.87 300.63,1036.61 301.13,1035.25 301.63,1033.8 302.14,1032.27 302.64,1030.68 303.14,1029.03 303.64,1027.34 304.15,1025.62 304.65,1023.87 305.15,1022.13 305.65,1020.38 306.16,1018.66 306.66,1016.97 307.16,1015.32 307.66,1013.73 308.17,1012.2 308.67,1010.75 309.17,1009.39 309.68,1008.13 310.18,1006.97 310.68,1005.93 311.18,1005.02 311.69,1004.23 312.19,1003.58 312.69,1003.06 313.19,1002.7 313.7,1002.47 314.2,1002.4 314.71,1002.5 315.21,1002.8 315.72,1003.31 316.23,1004.01 316.73,1004.91 317.24,1005.99 317.74,1007.27 318.25,1008.72 318.76,1010.35 319.26,1012.15 319.77,1014.1 320.28,1016.21 320.78,1018.45 321.29,1020.83 321.8,1023.32 322.3,1025.93 322.81,1028.63 323.31,1031.42 323.82,1034.28 324.33,1037.2 324.83,1040.17 325.34,1043.17 325.85,1046.19 326.35,1049.21 326.86,1052.23 327.37,1055.23 327.87,1058.2 328.38,1061.12 328.89,1063.98 329.39,1066.77 329.9,1069.47 330.4,1072.08 330.91,1074.57 331.42,1076.95 331.92,1079.19 332.43,1081.3 332.94,1083.25 333.44,1085.05 333.95,1086.68 334.46,1088.13 334.96,1089.41 335.47,1090.49 335.97,1091.39 336.48,1092.09 336.99,1092.6 337.49,1092.9 338,1093 338.5,1092.91 339,1092.66 339.51,1092.23 340.01,1091.64 340.51,1090.89 341.01,1089.97 341.52,1088.91 342.02,1087.69 342.52,1086.33 343.02,1084.83 343.53,1083.21 344.03,1081.47 344.53,1079.62 345.03,1077.67 345.53,1075.63 346.04,1073.52 346.54,1071.33 347.04,1069.09 347.54,1066.81 348.05,1064.5 348.55,1062.17 349.05,1059.83 349.55,1057.5 350.06,1055.19 350.56,1052.91 351.06,1050.67 351.56,1048.48 352.07,1046.37 352.57,1044.33 353.07,1042.38 353.57,1040.53 354.07,1038.79 354.58,1037.17 355.08,1035.67 355.58,1034.31 356.08,1033.09 356.59,1032.03 357.09,1031.11 357.59,1030.36 358.09,1029.77 358.6,1029.34 359.1,1029.09 359.6,1029 360.11,1029.06 360.61,1029.23 361.12,1029.52 361.63,1029.92 362.13,1030.42 362.64,1031.02 363.15,1031.72 363.65,1032.51 364.16,1033.37 364.67,1034.3 365.17,1035.29 365.68,1036.32 366.19,1037.4 366.69,1038.49 367.2,1039.6 367.71,1040.71 368.21,1041.8 368.72,1042.88 369.23,1043.91 369.73,1044.9 370.24,1045.83 370.75,1046.69 371.25,1047.48 371.76,1048.18 372.27,1048.78 372.77,1049.28 373.28,1049.68 373.79,1049.97 374.29,1050.14 374.8,1050.2 375.3,1050.12 375.8,1049.87 376.31,1049.47 376.81,1048.9 377.31,1048.18 377.81,1047.3 378.32,1046.28 378.82,1045.12 379.32,1043.82 379.82,1042.4 380.33,1040.86 380.83,1039.21 381.33,1037.47 381.83,1035.63 382.34,1033.71 382.84,1031.73 383.34,1029.69 383.84,1027.61 384.35,1025.5 384.85,1023.37 385.35,1021.23 385.85,1019.1 386.36,1016.99 386.86,1014.91 387.36,1012.87 387.86,1010.89 388.37,1008.97 388.87,1007.13 389.37,1005.39 389.87,1003.74 390.38,1002.2 390.88,1000.78 391.38,999.48 391.88,998.32 392.39,997.3 392.89,996.42 393.39,995.7 393.89,995.13 394.4,994.73 394.9,994.48 395.4,994.4 395.9,994.5 396.4,994.8 396.9,995.29 397.4,995.98 397.9,996.86 398.4,997.92 398.9,999.17 399.4,1000.6 399.9,1002.2 400.4,1003.97 400.9,1005.89 401.4,1007.96 401.9,1010.17 402.4,1012.51 402.9,1014.98 403.4,1017.55 403.9,1020.22 404.4,1022.98 404.9,1025.82 405.4,1028.72 405.9,1031.67 406.4,1034.66 406.9,1037.67 407.4,1040.7 407.9,1043.73 408.4,1046.74 408.9,1049.73 409.4,1052.68 409.9,1055.58 410.4,1058.42 410.9,1061.18 411.4,1063.85 411.9,1066.42 412.4,1068.89 412.9,1071.23 413.4,1073.44 413.9,1075.51 414.4,1077.43 414.9,1079.2 415.4,1080.8 415.9,1082.23 416.4,1083.48 416.9,1084.54 417.4,1085.42 417.9,1086.11 418.4,1086.6 418.9,1086.9 419.4,1087 419.9,1086.92 420.4,1086.69 420.9,1086.31 421.4,1085.79 421.9,1085.11 422.4,1084.3 422.9,1083.35 423.4,1082.26 423.9,1081.06 424.4,1079.74 424.9,1078.31 425.4,1076.78 425.9,1075.16 426.4,1073.46 426.9,1071.69 427.4,1069.86 427.9,1067.99 428.4,1066.08 428.9,1064.15 429.4,1062.2 429.9,1060.25 430.4,1058.32 430.9,1056.41 431.4,1054.54 431.9,1052.71 432.4,1050.94 432.9,1049.24 433.4,1047.62 433.9,1046.09 434.4,1044.66 434.9,1043.34 435.4,1042.14 435.9,1041.05 436.4,1040.1 436.9,1039.29 437.4,1038.61 437.9,1038.09 438.4,1037.71 438.9,1037.48 439.4,1037.4 439.9,1037.46 440.4,1037.65 440.9,1037.96 441.4,1038.39 441.9,1038.94 442.4,1039.6 442.9,1040.35 443.4,1041.2 443.9,1042.14 444.4,1043.15 444.9,1044.22 445.4,1045.35 445.9,1046.51 446.4,1047.7 446.9,1048.9 447.4,1050.1 447.9,1051.29 448.4,1052.45 448.9,1053.58 449.4,1054.65 449.9,1055.66 450.4,1056.6 450.9,1057.45 451.4,1058.2 451.9,1058.86 452.4,1059.41 452.9,1059.84 453.4,1060.15 453.9,1060.34 454.4,1060.4 454.9,1060.31 455.4,1060.05 455.91,1059.62 456.41,1059.02 456.91,1058.26 457.41,1057.33 457.92,1056.24 458.42,1055.01 458.92,1053.62 459.42,1052.09 459.92,1050.44 460.43,1048.65 460.93,1046.76 461.43,1044.75 461.93,1042.65 462.44,1040.46 462.94,1038.2 463.44,1035.87 463.94,1033.49 464.44,1031.06 464.95,1028.61 465.45,1026.14 465.95,1023.66 466.45,1021.19 466.96,1018.74 467.46,1016.31 467.96,1013.93 468.46,1011.6 468.96,1009.34 469.47,1007.15 469.97,1005.05 470.47,1003.04 470.97,1001.15 471.48,999.36 471.98,997.71 472.48,996.18 472.98,994.79 473.48,993.56 473.99,992.47 474.49,991.54 474.99,990.78 475.49,990.18 476,989.75 476.5,989.49 477,989.4 477.51,989.5 478.02,989.81 478.53,990.32 479.03,991.04 479.54,991.95 480.05,993.05 480.56,994.34 481.07,995.82 481.58,997.47 482.09,999.29 482.6,1001.27 483.1,1003.4 483.61,1005.67 484.12,1008.07 484.63,1010.59 485.14,1013.21 485.65,1015.93 486.16,1018.73 486.67,1021.6 487.17,1024.53 487.68,1027.5 488.19,1030.49 488.7,1033.5 489.21,1036.51 489.72,1039.5 490.23,1042.47 490.73,1045.4 491.24,1048.27 491.75,1051.07 492.26,1053.79 492.77,1056.41 493.28,1058.93 493.79,1061.33 494.3,1063.6 494.8,1065.73 495.31,1067.71 495.82,1069.53 496.33,1071.18 496.84,1072.66 497.35,1073.95 497.86,1075.05 498.37,1075.96 498.87,1076.68 499.38,1077.19 499.89,1077.5 500.4,1077.6 500.9,1077.53 501.4,1077.33 501.9,1076.99 502.4,1076.53 502.9,1075.93 503.4,1075.22 503.9,1074.38 504.4,1073.44 504.9,1072.39 505.4,1071.24 505.9,1070.01 506.4,1068.7 506.9,1067.32 507.4,1065.89 507.9,1064.41 508.4,1062.89 508.9,1061.35 509.4,1059.8 509.9,1058.25 510.4,1056.71 510.9,1055.19 511.4,1053.71 511.9,1052.28 512.4,1050.9 512.9,1049.59 513.4,1048.36 513.9,1047.21 514.4,1046.16 514.9,1045.22 515.4,1044.38 515.9,1043.67 516.4,1043.07 516.9,1042.61 517.4,1042.27 517.9,1042.07 518.4,1042 518.9,1042.07 519.41,1042.27 519.91,1042.6 520.41,1043.06 520.92,1043.65 521.42,1044.35 521.92,1045.17 522.42,1046.09 522.93,1047.11 523.43,1048.22 523.93,1049.4 524.44,1050.65 524.94,1051.96 525.44,1053.31 525.95,1054.69 526.45,1056.1 526.95,1057.5 527.45,1058.91 527.96,1060.29 528.46,1061.64 528.96,1062.95 529.47,1064.2 529.97,1065.38 530.47,1066.49 530.98,1067.51 531.48,1068.43 531.98,1069.25 532.48,1069.95 532.99,1070.54 533.49,1071 533.99,1071.33 534.5,1071.53 535,1071.6 535.51,1071.5 536.02,1071.21 536.53,1070.73 537.03,1070.05 537.54,1069.19 538.05,1068.15 538.56,1066.92 539.07,1065.53 539.58,1063.97 540.09,1062.25 540.6,1060.38 541.1,1058.36 541.61,1056.22 542.12,1053.95 542.63,1051.57 543.14,1049.08 543.65,1046.51 544.16,1043.86 544.67,1041.15 545.17,1038.38 545.68,1035.58 546.19,1032.75 546.7,1029.9 547.21,1027.05 547.72,1024.22 548.23,1021.42 548.73,1018.65 549.24,1015.94 549.75,1013.29 550.26,1010.72 550.77,1008.23 551.28,1005.85 551.79,1003.58 552.3,1001.44 552.8,999.42 553.31,997.55 553.82,995.83 554.33,994.27 554.84,992.88 555.35,991.65 555.86,990.61 556.37,989.75 556.87,989.07 557.38,988.59 557.89,988.3 558.4,988.2 558.91,988.3 559.41,988.58 559.92,989.06 560.43,989.72 560.93,990.56 561.44,991.59 561.95,992.79 562.45,994.16 562.96,995.69 563.47,997.37 563.97,999.2 564.48,1001.17 564.99,1003.27 565.49,1005.48 566,1007.8 566.51,1010.22 567.01,1012.72 567.52,1015.29 568.03,1017.92 568.53,1020.59 569.04,1023.3 569.55,1026.03 570.05,1028.77 570.56,1031.5 571.07,1034.21 571.57,1036.88 572.08,1039.51 572.59,1042.08 573.09,1044.58 573.6,1047 574.11,1049.32 574.61,1051.53 575.12,1053.63 575.63,1055.6 576.13,1057.43 576.64,1059.11 577.15,1060.64 577.65,1062.01 578.16,1063.21 578.67,1064.24 579.17,1065.08 579.68,1065.74 580.19,1066.22 580.69,1066.5 581.2,1066.6 581.7,1066.54 582.2,1066.35 582.7,1066.04 583.2,1065.61 583.7,1065.06 584.2,1064.41 584.7,1063.65 585.2,1062.79 585.7,1061.85 586.2,1060.82 586.7,1059.73 587.2,1058.57 587.7,1057.37 588.2,1056.14 588.7,1054.87 589.2,1053.6 589.7,1052.33 590.2,1051.06 590.7,1049.83 591.2,1048.63 591.7,1047.47 592.2,1046.38 592.7,1045.35 593.2,1044.41 593.7,1043.55 594.2,1042.79 594.7,1042.14 595.2,1041.59 595.7,1041.16 596.2,1040.85 596.7,1040.66 597.2,1040.6 597.71,1040.67 598.22,1040.9 598.72,1041.27 599.23,1041.78 599.74,1042.44 600.25,1043.23 600.76,1044.15 601.26,1045.19 601.77,1046.36 602.28,1047.62 602.79,1048.99 603.3,1050.45 603.81,1051.98 604.31,1053.58 604.82,1055.24 605.33,1056.94 605.84,1058.67 606.35,1060.42 606.85,1062.18 607.36,1063.93 607.87,1065.66 608.38,1067.36 608.89,1069.02 609.39,1070.62 609.9,1072.15 610.41,1073.61 610.92,1074.98 611.43,1076.24 611.94,1077.41 612.44,1078.45 612.95,1079.37 613.46,1080.16 613.97,1080.82 614.48,1081.33 614.98,1081.7 615.49,1081.93 616,1082 616.51,1081.9 617.01,1081.59 617.52,1081.09 618.03,1080.38 618.53,1079.48 619.04,1078.39 619.54,1077.11 620.05,1075.65 620.56,1074.01 621.06,1072.21 621.57,1070.25 622.08,1068.13 622.58,1065.88 623.09,1063.49 623.6,1060.98 624.1,1058.37 624.61,1055.65 625.11,1052.85 625.62,1049.98 626.13,1047.05 626.63,1044.07 627.14,1041.05 627.65,1038.02 628.15,1034.98 628.66,1031.95 629.17,1028.93 629.67,1025.95 630.18,1023.02 630.69,1020.15 631.19,1017.35 631.7,1014.63 632.2,1012.02 632.71,1009.51 633.22,1007.12 633.72,1004.87 634.23,1002.75 634.74,1000.79 635.24,998.99 635.75,997.35 636.26,995.89 636.76,994.61 637.27,993.52 637.77,992.62 638.28,991.91 638.79,991.41 639.29,991.1 639.8,991 640.31,991.09 640.82,991.36 641.33,991.81 641.84,992.43 642.35,993.23 642.86,994.2 643.37,995.33 643.88,996.61 644.39,998.05 644.9,999.62 645.4,1001.33 645.91,1003.16 646.42,1005.1 646.93,1007.15 647.44,1009.29 647.95,1011.5 648.46,1013.78 648.97,1016.11 649.48,1018.49 649.99,1020.89 650.5,1023.3 651.01,1025.71 651.52,1028.11 652.03,1030.49 652.54,1032.82 653.05,1035.1 653.56,1037.31 654.07,1039.45 654.58,1041.5 655.09,1043.44 655.6,1045.27 656.1,1046.98 656.61,1048.55 657.12,1049.99 657.63,1051.27 658.14,1052.4 658.65,1053.37 659.16,1054.17 659.67,1054.79 660.18,1055.24 660.69,1055.51 661.2,1055.6 661.71,1055.54 662.21,1055.36 662.72,1055.07 663.23,1054.67 663.73,1054.15 664.24,1053.54 664.75,1052.83 665.25,1052.03 665.76,1051.15 666.27,1050.2 666.77,1049.19 667.28,1048.14 667.79,1047.05 668.29,1045.93 668.8,1044.8 669.31,1043.67 669.81,1042.55 670.32,1041.46 670.83,1040.41 671.33,1039.4 671.84,1038.45 672.35,1037.57 672.85,1036.77 673.36,1036.06 673.87,1035.45 674.37,1034.93 674.88,1034.53 675.39,1034.24 675.89,1034.06 676.4,1034 676.91,1034.08 677.41,1034.33 677.92,1034.74 678.43,1035.31 678.94,1036.04 679.44,1036.93 679.95,1037.96 680.46,1039.13 680.97,1040.44 681.47,1041.88 681.98,1043.44 682.49,1045.1 683,1046.87 683.5,1048.73 684.01,1050.66 684.52,1052.67 685.02,1054.73 685.53,1056.83 686.04,1058.97 686.55,1061.12 687.05,1063.28 687.56,1065.43 688.07,1067.57 688.58,1069.67 689.08,1071.73 689.59,1073.74 690.1,1075.67 690.6,1077.53 691.11,1079.3 691.62,1080.96 692.13,1082.52 692.63,1083.96 693.14,1085.27 693.65,1086.44 694.16,1087.47 694.66,1088.36 695.17,1089.09 695.68,1089.66 696.19,1090.07 696.69,1090.32 697.2,1090.4 697.71,1090.3 698.21,1089.99 698.72,1089.49 699.23,1088.78 699.73,1087.88 700.24,1086.78 700.75,1085.5 701.25,1084.04 701.76,1082.4 702.27,1080.6 702.77,1078.64 703.28,1076.53 703.78,1074.28 704.29,1071.9 704.8,1069.41 705.3,1066.8 705.81,1064.11 706.32,1061.33 706.82,1058.49 707.33,1055.59 707.84,1052.65 708.34,1049.68 708.85,1046.7 709.36,1043.72 709.86,1040.75 710.37,1037.81 710.88,1034.91 711.38,1032.07 711.89,1029.29 712.4,1026.6 712.9,1023.99 713.41,1021.5 713.92,1019.12 714.42,1016.87 714.93,1014.76 715.43,1012.8 715.5,1012.57" fill="none" stroke="#0072BD" stroke-width="1.2" stroke-linejoin="round" clip-path="url(#cl4)"/>
<polyline points="906.9,172.2 908.74,167.66 910.58,169.12 912.42,169.75 914.26,167.44 916.1,171.42 917.94,167.96 919.78,168.52 921.62,170.44 923.46,167.29 925.3,170.62 927.14,168.32 928.98,167.96 930.82,171.18 932.66,167.21 934.5,169.82 936.34,168.76 938.18,167.42 940.02,171.98 941.86,167.18 943.7,168.98 945.54,169.28 947.38,166.88 949.22,171.54 951.07,167.18 952.91,168.05 954.75,169.88 956.59,166.28 958.43,170.51 960.27,167.19 962.11,166.94 963.95,170.59 965.79,165.5 967.63,169.2 969.47,167.12 971.31,165.36 973.15,171.52 974.99,164.18 976.83,167.18 978.67,166.76 980.51,162.42 982.35,171.35 984.19,161.01 986.03,162.54 987.87,165.13 989.71,152.83 991.55,166.27 993.39,142.44 995.23,119.88 997.07,33.53 998.91,87.59 1000.75,157.27 1002.59,154.35 1004.43,156.38 1006.27,170.4 1008.11,160.97 1009.95,166.96 1011.79,166.96 1013.63,164.95 1015.47,171.97 1017.31,166.31 1019.15,168.27 1020.99,169.54 1022.83,166.96 1024.67,171.21 1026.51,167.99 1028.35,168.48 1030.19,170.66 1032.03,167.57 1033.87,170.59 1035.71,168.73 1037.55,168.24 1039.4,171.42 1041.24,167.67 1043.08,169.88 1044.92,169.15 1046.76,167.71 1048.6,172.15 1050.44,167.48 1052.28,168.96 1054.12,169.48 1055.96,166.84 1057.8,171.33 1059.64,167.02 1061.48,167.57 1063.32,169.8 1065.16,165.32 1067,169.92 1068.84,165.98 1070.68,164.95 1072.52,170.2 1074.36,161.8 1076.2,166.7 1078.04,162.75 1079.88,156.65 1081.72,171.07 1083.56,142.98 1085.4,140.39 1087.24,48.27 1089.08,77.67 1090.92,167.84 1092.76,150.07 1094.6,159.33 1096.44,166.48 1098.28,160.7 1100.12,169.55 1101.96,165.23 1103.8,165.92 1105.64,170.44 1107.48,165.9 1109.32,169.72 1111.16,168.3 1113,167.5 1114.84,171.73 1116.68,167.59 1118.52,169.61 1120.36,169.58 1122.2,167.99 1124.04,171.91 1125.88,168.31 1127.73,169.29 1129.57,170.32 1131.41,168.02 1133.25,171.24 1135.09,168.63 1136.93,168.76 1138.77,170.9 1140.61,167.73 1142.45,170.45 1144.29,168.73 1146.13,167.91 1147.97,171.51 1149.81,167.09 1151.65,169.32 1153.49,168.64 1155.33,166.43 1157.17,172.04 1159.01,165.71 1160.85,167.22 1162.69,168.17 1164.53,163.05 1166.37,170.24 1168.21,161.64 1170.05,160.78 1171.89,165.85 1173.73,146.01 1175.57,157.23 1177.41,66.25 1179.25,73.27 1181.09,165.01 1182.93,148.47 1184.77,163.79 1186.61,163.5 1188.45,162.02 1190.29,172.03 1192.13,164.61 1193.97,167.76 1195.81,168.86 1197.65,166.48 1199.49,171.43 1201.33,167.77 1203.17,168.69 1205.01,170.51 1206.85,167.92 1208.69,170.96 1210.53,169.04 1212.37,168.94 1214.22,171.36 1216.06,168.51 1217.9,170.54 1219.74,169.71 1221.58,168.88 1223.42,171.98 1225.26,168.72 1227.1,170.04 1228.94,170.14 1230.78,168.57 1232.62,171.81 1234.46,168.69 1236.3,169.34 1238.14,170.48 1239.98,167.93 1241.82,171.04 1243.66,168.37 1245.5,168.17 1247.34,170.82 1249.18,166.61 1251.02,169.69 1252.86,167.44 1254.7,165.56 1256.54,171.33 1258.38,162.81 1260.22,165.76 1262.06,163.55 1263.9,153.12 1265.74,170.34 1267.58,95.54 1269.42,84.72 1271.26,155.88 1273.1,151.59 1274.94,169 1276.78,162.7 1278.62,164.93 1280.46,169.83 1282.3,165.46 1284.14,169.96 1285.98,168.19 1287.82,167.87 1289.66,171.53 1291.5,168.05 1293.34,170.13 1295.18,169.83 1297.02,168.78 1298.86,172.15 1300.7,169.06 1302.55,170.07 1304.39,170.63 1306.23,169.11 1308.07,171.65 1309.91,169.54 1311.75,169.86 1313.59,171.15 1315.43,169.14 1317.27,171.17 1319.11,169.79 1320.95,169.48 1322.79,171.59 1324.63,168.93 1326.47,170.56 1328.31,169.88 1330.15,168.81 1331.99,172.09 1333.83,168.41 1335.67,169.6 1337.51,169.82 1339.35,167.5 1341.19,171.5 1343.03,167.14 1344.87,167.53 1346.71,169.44 1348.55,163.91 1350.39,169.29 1352.23,162.28 1354.07,158.21 1355.91,166.19 1357.75,112.87 1359.59,88.77 1361.43,147.18 1363.27,153.96 1365.11,171.23 1366.95,162.09 1368.79,167.23 1370.63,168.14 1372.47,166.19 1374.31,171.7 1376.15,167.73 1377.99,169.02 1379.83,170.44 1381.67,168.35 1383.51,171.28 1385.35,169.36 1387.19,169.53 1389.04,171.34 1390.88,169.16 1392.72,171 1394.56,170.11 1396.4,169.66 1398.24,171.88 1400.08,169.51 1401.92,170.69 1403.76,170.55 1405.6,169.57 1407.44,172.06 1409.28,169.62 1411.12,170.28 1412.96,170.86 1414.8,169.27 1416.64,171.56 1418.48,169.55 1420.32,169.65 1422.16,171.14 1424,168.65 1425.84,170.83 1427.68,169.21 1429.52,168.47 1431.36,171.48 1433.2,167.25 1435.04,169.34 1436.88,168.2 1438.72,165.34 1440.56,172.15 1442.4,162.11 1444.24,162.99 1446.08,161.38 1447.92,127.96 1449.76,94.44 1451.6,139.78 1453.44,157.51 1455.28,167.58 1457.12,162.34 1458.96,169.62 1460.8,167.02 1462.64,167.3 1464.48,171.2 1466.32,167.71 1468.16,170.24 1470,169.66 1471.84,168.92 1473.68,172.08 1475.52,169.21 1477.37,170.37 1479.21,170.66 1481.05,169.5 1482.89,171.86 1484.73,169.87 1486.57,170.33 1488.41,171.21 1490.25,169.71 1492.09,171.5 1493.93,170.22 1495.77,170.15 1497.61,171.61 1499.45,169.71 1501.29,171.1 1503.13,170.4 1504.97,169.8 1506.81,171.98" fill="none" stroke="#0072BD" stroke-width="1.2" stroke-linejoin="round" clip-path="url(#cr0)"/>
<polyline points="906.9,406.4 908.74,400.34 910.58,402.25 912.42,403.07 914.26,399.8 916.1,405.28 917.94,400.15 919.78,400.72 921.62,403.51 923.46,397.6 925.3,403.22 927.14,397.11 928.98,393.32 930.82,401.66 932.66,353.89 934.5,333.99 936.34,385.09 938.18,389.55 940.02,405.83 941.86,396.19 943.7,400.8 945.54,401.88 947.38,398.88 949.22,405.53 951.07,400.15 952.91,401.47 954.75,403.75 956.59,399.9 958.43,404.61 960.27,401.24 962.11,401.14 963.95,404.84 965.79,400.1 967.63,403.67 969.47,401.93 971.31,400.59 973.15,405.85 974.99,400.12 976.83,402.66 978.67,402.57 980.51,399.93 982.35,405.88 984.19,400.1 986.03,401.5 987.87,403.26 989.71,399.13 991.55,404.63 993.39,400.01 995.23,400.06 997.07,404.06 998.91,397.99 1000.75,402.98 1002.59,399.7 1004.43,397.86 1006.27,405.09 1008.11,395.79 1009.95,400.1 1011.79,398.44 1013.63,392.37 1015.47,405.81 1017.31,385.36 1019.15,382.6 1020.99,334.96 1022.83,362.85 1024.67,403.38 1026.51,399.19 1028.35,401.55 1030.19,404.37 1032.03,399.37 1033.87,403.48 1035.71,398.85 1037.55,396.04 1039.4,403.9 1041.24,388.21 1043.08,394.09 1044.92,382.51 1046.76,337.78 1048.6,267.08 1050.44,338.64 1052.28,384.24 1054.12,394.7 1055.96,390.18 1057.8,404.46 1059.64,397.49 1061.48,400.18 1063.32,403.84 1065.16,400.31 1067,404.57 1068.84,401.08 1070.68,398.35 1072.52,402.87 1074.36,363.24 1076.2,338.85 1078.04,384.4 1079.88,388.23 1081.72,405.63 1083.56,394.77 1085.4,400.11 1087.24,401.24 1089.08,398.08 1090.92,405.53 1092.76,399.72 1094.6,401.32 1096.44,403.65 1098.28,399.94 1100.12,404.71 1101.96,401.45 1103.8,401.51 1105.64,404.92 1107.48,400.7 1109.32,404.02 1111.16,402.43 1113,401.38 1114.84,405.88 1116.68,401.06 1118.52,403.3 1120.36,403.16 1122.2,401.06 1124.04,406.02 1125.88,401.23 1127.73,402.46 1129.57,403.81 1131.41,400.54 1133.25,405.03 1135.09,401.24 1136.93,401.36 1138.77,404.47 1140.61,399.68 1142.45,403.72 1144.29,401 1146.13,399.6 1147.97,405.28 1149.81,397.86 1151.65,401.4 1153.49,399.88 1155.33,395.03 1157.17,406.05 1159.01,389.01 1160.85,386.84 1162.69,346.14 1164.53,368.74 1166.37,403.86 1168.21,399.93 1170.05,402.21 1171.89,404.67 1173.73,400.7 1175.57,404.11 1177.41,400.27 1179.25,398.06 1181.09,404.26 1182.93,391.49 1184.77,396.43 1186.61,386.42 1188.45,349.6 1190.29,289.44 1192.13,348.72 1193.97,387.75 1195.81,396.25 1197.65,392.5 1199.49,404.82 1201.33,398.65 1203.17,401.06 1205.01,404.14 1206.85,401.22 1208.69,404.93 1210.53,402.06 1212.37,399.95 1214.22,403.41 1216.06,370.98 1217.9,350.02 1219.74,387.67 1221.58,391.09 1223.42,405.63 1225.26,396.48 1227.1,401.11 1228.94,401.94 1230.78,399.33 1232.62,405.72 1234.46,400.7 1236.3,402.13 1238.14,404.02 1239.98,400.94 1241.82,405.02 1243.66,402.2 1245.5,402.32 1247.34,405.11 1249.18,401.63 1251.02,404.45 1252.86,403.08 1254.7,402.26 1256.54,405.92 1258.38,401.99 1260.22,403.88 1262.06,403.71 1263.9,402.04 1265.74,406.13 1267.58,402.17 1269.42,403.22 1271.26,404.25 1273.1,401.65 1274.94,405.33 1276.78,402.2 1278.62,402.35 1280.46,404.8 1282.3,400.96 1284.14,404.29 1285.98,402 1287.82,400.93 1289.66,405.43 1291.5,399.48 1293.34,402.41 1295.18,401.06 1297.02,397.21 1298.86,406.22 1300.7,392.21 1302.55,390.63 1304.39,356.99 1306.23,375.16 1308.07,404.39 1309.91,400.97 1311.75,402.96 1313.59,404.95 1315.43,401.79 1317.27,404.6 1319.11,401.42 1320.95,399.71 1322.79,404.58 1324.63,394.32 1326.47,398.45 1328.31,390.02 1330.15,360.52 1331.99,310.98 1333.83,358.92 1335.67,391.29 1337.51,397.95 1339.35,395.02 1341.19,405.19 1343.03,400.01 1344.87,402.05 1346.71,404.51 1348.55,402.18 1350.39,405.24 1352.23,402.91 1354.07,401.3 1355.91,403.92 1357.75,378.18 1359.59,361.04 1361.43,391.1 1363.27,394.05 1365.11,405.68 1366.95,398.32 1368.79,402.16 1370.63,402.72 1372.47,400.66 1374.31,405.89 1376.15,401.74 1377.99,402.95 1379.83,404.43 1381.67,401.96 1383.51,405.32 1385.35,402.97 1387.19,403.11 1389.04,405.32 1390.88,402.53 1392.72,404.85 1394.56,403.68 1396.4,403.06 1398.24,405.98 1400.08,402.82 1401.92,404.39 1403.76,404.2 1405.6,402.89 1407.44,406.22 1409.28,402.97 1411.12,403.86 1412.96,404.64 1414.8,402.57 1416.64,405.57 1418.48,402.99 1420.32,403.16 1422.16,405.07 1424,402.01 1425.84,404.73 1427.68,402.82 1429.52,402.01 1431.36,405.57 1433.2,400.8 1435.04,403.22 1436.88,402.03 1438.72,398.97 1440.56,406.34 1442.4,394.83 1444.24,393.73 1446.08,366.06 1447.92,380.69 1449.76,404.83 1451.6,401.91 1453.44,403.6 1455.28,405.2 1457.12,402.68 1458.96,404.99 1460.8,402.37 1462.64,401.06 1464.48,404.87 1466.32,396.71 1468.16,400.14 1470,393.16 1471.84,369.93 1473.68,329.94 1475.52,368 1477.37,394.38 1479.21,399.49 1481.05,397.24 1482.89,405.49 1484.73,401.21 1486.57,402.92 1488.41,404.84 1490.25,403 1492.09,405.5 1493.93,403.6 1495.77,402.37 1497.61,404.35 1499.45,383.92 1501.29,369.95 1503.13,393.93 1504.97,396.47 1506.81,405.75" fill="none" stroke="#0072BD" stroke-width="1.2" stroke-linejoin="round" clip-path="url(#cr1)"/>
<polyline points="906.9,644.3 908.74,629.58 910.58,632.06 912.42,637.77 914.26,622.07 916.1,625.13 917.94,573.82 919.78,604.86 921.62,634.7 923.46,636.15 925.3,637.17 927.14,636.44 928.98,637.48 930.82,638.51 932.66,635 934.5,639.66 936.34,635.51 938.18,635.28 940.02,639.1 941.86,632.12 943.7,637.79 945.54,632.28 947.38,629.57 949.22,634.29 951.07,603.29 952.91,581.93 954.75,620.78 956.59,623.35 958.43,635.55 960.27,617.83 962.11,592.57 963.95,519.79 965.79,570.24 967.63,630.91 969.47,627.5 971.31,625.6 973.15,633.3 974.99,585.41 976.83,595.63 978.67,637.57 980.51,630.54 982.35,636.97 984.19,636.12 986.03,636.57 987.87,638.73 989.71,635.92 991.55,639.69 993.39,636.27 995.23,637.27 997.07,638.36 998.91,634.26 1000.75,639.31 1002.59,632.63 1004.43,633.81 1006.27,631.72 1008.11,612.05 1009.95,582.63 1011.79,614.37 1013.63,626.01 1015.47,639.43 1017.31,616.86 1019.15,608.13 1020.99,527.44 1022.83,559.81 1024.67,638.44 1026.51,623.33 1028.35,627.95 1030.19,636.56 1032.03,590.97 1033.87,591.23 1035.71,635.28 1037.55,629.32 1039.4,638.12 1041.24,635.08 1043.08,637.23 1044.92,638.13 1046.76,636.28 1048.6,639.91 1050.44,636.18 1052.28,638.48 1054.12,637.61 1055.96,635.44 1057.8,639.45 1059.64,632.89 1061.48,636.61 1063.32,630.16 1065.16,619.7 1067,585.41 1068.84,608.87 1070.68,629.37 1072.52,637.91 1074.36,617.54 1076.2,621.88 1078.04,538.11 1079.88,553.27 1081.72,640.25 1083.56,621.16 1085.4,631.72 1087.24,635.56 1089.08,598.96 1090.92,590.51 1092.76,631.2 1094.6,629.78 1096.44,638.92 1098.28,634.74 1100.12,638.43 1101.96,637.61 1103.8,637.17 1105.64,639.84 1107.48,636.52 1109.32,639.66 1111.16,637.21 1113,636.89 1114.84,638.99 1116.68,633.8 1118.52,638.69 1120.36,629.84 1122.2,626.93 1124.04,590.51 1125.88,605.14 1127.73,633.36 1129.57,634.7 1131.41,620.17 1133.25,633.8 1135.09,551.97 1136.93,550.63 1138.77,631.26 1140.61,620.74 1142.45,635.88 1144.29,633.02 1146.13,607.08 1147.97,591.2 1149.81,626.77 1151.65,631.01 1153.49,638.64 1155.33,634.82 1157.17,639.47 1159.01,637.17 1160.85,638.18 1162.69,639.4 1164.53,637.01 1166.37,640.36 1168.21,636.98 1170.05,638.23 1171.89,638.24 1173.73,634.85 1175.57,639.39 1177.41,630.04 1179.25,632.67 1181.09,595.15 1182.93,601.98 1184.77,636.67 1186.61,632.13 1188.45,623.93 1190.29,642.48 1192.13,567.86 1193.97,553.64 1195.81,622.92 1197.65,622.32 1199.49,639.58 1201.33,631.2 1203.17,615.18 1205.01,593.29 1206.85,622.74 1208.69,633 1210.53,637.72 1212.37,635.47 1214.22,640.17 1216.06,637.16 1217.9,639.37 1219.74,639.05 1221.58,637.97 1223.42,640.65 1225.26,637.34 1227.1,639.68 1228.94,637.91 1230.78,636.57 1232.62,639.24 1234.46,631.68 1236.3,637.44 1238.14,603.18 1239.98,602.1 1241.82,637.67 1243.66,630.88 1245.5,628.32 1247.34,637.89 1249.18,581.5 1251.02,555.5 1252.86,614.88 1254.7,624.72 1256.54,640.32 1258.38,630.4 1260.22,622.72 1262.06,597 1263.9,619.62 1265.74,635.46 1267.58,636.75 1269.42,636.55 1271.26,640.29 1273.1,637.51 1274.94,640.44 1276.78,638.88 1278.62,639.07 1280.46,640.55 1282.3,638 1284.14,640.77 1285.98,637.92 1287.82,638.29 1289.66,638.76 1291.5,633.7 1293.34,639.57 1295.18,610.96 1297.02,603.96 1298.86,635.64 1300.7,630.83 1302.55,632.83 1304.39,633.21 1306.23,594.44 1308.07,558.98 1309.91,607.58 1311.75,628.03 1313.59,637.85 1315.43,630.41 1317.27,629.03 1319.11,600.48 1320.95,616.68 1322.79,637.8 1324.63,635.8 1326.47,637.65 1328.31,639.87 1330.15,637.94 1331.99,641.05 1333.83,638.77 1335.67,640.02 1337.51,640.19 1339.35,638.66 1341.19,641.21 1343.03,638.01 1344.87,639.66 1346.71,638.2 1348.55,635.5 1350.39,639.03 1352.23,616.97 1354.07,605.12 1355.91,632.3 1357.75,631.35 1359.59,636.85 1361.43,630.23 1363.27,606.11 1365.11,564.08 1366.95,601.38 1368.79,632.23 1370.63,635 1372.47,631.28 1374.31,634.34 1376.15,604.42 1377.99,614.33 1379.83,639.63 1381.67,635.13 1383.51,638.83 1385.35,639.29 1387.19,638.54 1389.04,641.19 1390.88,638.82 1392.72,640.86 1394.56,639.83 1396.4,639.41 1398.24,641.13 1400.08,638.29 1401.92,640.72 1403.76,637.83 1405.6,637.24 1407.44,637.72 1409.28,622.27 1411.12,606.51 1412.96,628.82 1414.8,632.51 1416.64,640.15 1418.48,628.72 1420.32,616.47 1422.16,570.11 1424,596.32 1425.84,637.07 1427.68,632.67 1429.52,632.93 1431.36,638.22 1433.2,609.06 1435.04,612.91 1436.88,639.78 1438.72,634.91 1440.56,640 1442.4,638.81 1444.24,639.32 1446.08,640.97 1447.92,639.1 1449.76,641.48 1451.6,639.63 1453.44,640.22 1455.28,640.78 1457.12,638.79 1458.96,641.33 1460.8,637.76 1462.64,638.89 1464.48,636.65 1466.32,627.1 1468.16,608.36 1470,625.59 1471.84,634.23 1473.68,641.47 1475.52,628.46 1477.37,625.6 1479.21,577.06 1481.05,592.93 1482.89,642.17 1484.73,631.36 1486.57,635.34 1488.41,639.76 1490.25,615.19 1492.09,613.69 1493.93,638.31 1495.77,635.49 1497.61,641.01 1499.45,638.75 1501.29,640.33 1503.13,640.73 1504.97,639.74 1506.81,641.84" fill="none" stroke="#0072BD" stroke-width="1.2" stroke-linejoin="round" clip-path="url(#cr2)"/>
<polyline points="906.9,885.4 908.74,858.84 910.58,826.9 912.42,793.55 914.26,812.13 916.1,867.24 917.94,848.5 919.78,829.43 921.62,879.44 923.46,805.76 925.3,795.13 927.14,840.01 928.98,804.64 930.82,765.83 932.66,799.9 934.5,842.4 936.34,800.36 938.18,803.03 940.02,861.38 941.86,847.62 943.7,831.66 945.54,884.02 947.38,814.59 949.22,793.88 951.07,834.54 952.91,815.28 954.75,768.92 956.59,792.99 958.43,843.86 960.27,805.88 962.11,799.94 963.95,854.22 965.79,852.04 967.63,831.22 969.47,877.17 971.31,822.13 973.15,793.85 974.99,829.37 976.83,823.8 978.67,772.56 980.51,787.89 982.35,842.55 984.19,811.63 986.03,798.16 987.87,847.21 989.71,857.54 991.55,831.09 993.39,870.37 995.23,829.77 997.07,794.95 998.91,824.49 1000.75,831.55 1002.59,777.4 1004.43,784.31 1006.27,839.45 1008.11,817.91 1009.95,797.69 1011.79,840.7 1013.63,863.66 1015.47,831.72 1017.31,864.13 1019.15,837.63 1020.99,797.06 1022.83,820.03 1024.67,838.25 1026.51,783.02 1028.35,781.81 1030.19,835.12 1032.03,824.42 1033.87,798.3 1035.71,834.81 1037.55,870.14 1039.4,833.19 1041.24,858.59 1043.08,845.65 1044.92,800.25 1046.76,816.32 1048.6,843.65 1050.44,789.61 1052.28,780.71 1054.12,830.31 1055.96,831.06 1057.8,800.08 1059.64,829.71 1061.48,876.74 1063.32,835.49 1065.16,853.85 1067,853.67 1068.84,804.32 1070.68,813.39 1072.52,847.23 1074.36,796.77 1076.2,780.71 1078.04,825.39 1079.88,837.4 1081.72,802.77 1083.56,825.41 1085.4,882.61 1087.24,838.51 1089.08,849.93 1090.92,861.54 1092.76,809.14 1094.6,811.32 1096.44,848.79 1098.28,804.37 1100.12,781.81 1101.96,820.71 1103.8,843.13 1105.64,806.33 1107.48,821.99 1109.32,879.84 1111.16,842.18 1113,846.88 1114.84,869.14 1116.68,814.64 1118.52,810.18 1120.36,848.46 1122.2,812.27 1124.04,784.02 1125.88,816.52 1127.73,847.79 1129.57,810.5 1131.41,819.29 1133.25,873.65 1135.09,846.25 1136.93,844.5 1138.77,876.29 1140.61,820.23 1142.45,809.4 1144.29,846.39 1146.13,819.64 1147.97,786.22 1149.81,812.4 1151.65,850.79 1153.49,814.99 1155.33,817.31 1157.17,867.56 1159.01,850.82 1160.85,843.08 1162.69,882.93 1164.53,826.64 1166.37,810.12 1168.21,843.86 1170.05,827.69 1171.89,790.63 1173.73,809.85 1175.57,852.37 1177.41,820.43 1179.25,816.47 1181.09,861.85 1182.93,855.72 1184.77,842.31 1186.61,881.34 1188.45,832.82 1190.29,810.78 1192.13,840.4 1193.97,834.46 1195.81,793.93 1197.65,806.71 1199.49,851.68 1201.33,825.46 1203.17,815.83 1205.01,856.42 1206.85,860.8 1208.69,842.27 1210.53,875.73 1212.37,839.47 1214.22,812.82 1216.06,837.47 1217.9,841.43 1219.74,799.44 1221.58,805.67 1223.42,850.05 1225.26,831.49 1227.1,816.74 1228.94,851.78 1230.78,866.21 1232.62,843.19 1234.46,870.76 1236.3,846.24 1238.14,815.55 1239.98,834.77 1241.82,847.38 1243.66,804.95 1245.5,804.97 1247.34,847.32 1249.18,837.29 1251.02,818.1 1252.86,847.62 1254.7,871.58 1256.54,844.62 1258.38,866.41 1260.22,852.85 1262.06,818.73 1263.9,832.45 1265.74,852.16 1267.58,810.75 1269.42,804.95 1271.26,844.09 1273.1,842.94 1274.94,820.12 1276.78,844.08 1278.62,876.87 1280.46,846.67 1282.3,862.79 1284.14,859.37 1285.98,822.63 1287.82,830.87 1289.66,855.67 1291.5,817.14 1293.34,806.06 1295.18,840.92 1297.02,848.36 1298.86,822.82 1300.7,841.2 1302.55,881.77 1304.39,849.16 1306.23,859.8 1308.07,865.54 1309.91,826.64 1311.75,829.56 1313.59,857.37 1315.43,823.12 1317.27,807.16 1319.11,837.58 1320.95,853 1322.79,825.71 1324.63,838.77 1326.47,882.51 1328.31,852.01 1330.15,857.45 1331.99,871.43 1333.83,831.1 1335.67,829.01 1337.51,857.69 1339.35,829.48 1341.19,809.36 1343.03,834.78 1344.87,856.96 1346.71,829.22 1348.55,837.04 1350.39,878.18 1352.23,855.21 1354.07,855.7 1355.91,876.95 1357.75,835.65 1359.59,828.81 1361.43,856.65 1363.27,835.4 1365.11,811.57 1366.95,832.02 1368.79,859.63 1370.63,832.67 1372.47,835.55 1374.31,873.64 1376.15,858.49 1377.99,854.34 1379.83,882.05 1381.67,840.08 1383.51,828.76 1385.35,854.63 1387.19,840.85 1389.04,813.77 1390.88,829.37 1392.72,860.86 1394.56,836.25 1396.4,834.51 1398.24,869.27 1400.08,862.03 1401.92,853.59 1403.76,883.93 1405.6,844.85 1407.44,829.53 1409.28,852.41 1411.12,846.4 1412.96,817.08 1414.8,827.65 1416.64,860.9 1418.48,840.34 1420.32,834.25 1422.16,865.25 1424,865.82 1425.84,853.41 1427.68,879.61 1429.52,849.68 1431.36,830.68 1433.2,850.01 1435.04,851.36 1436.88,820.38 1438.72,826.1 1440.56,859.6 1442.4,844.31 1444.24,834.22 1446.08,861.44 1447.92,869.64 1449.76,853.55 1451.6,875.65 1453.44,854.37 1455.28,831.99 1457.12,847.51 1458.96,855.6 1460.8,823.69 1462.64,824.82 1464.48,857.43 1466.32,848.43 1468.16,834.95 1470,858.19 1471.84,873.68 1473.68,854.61 1475.52,872.32 1477.37,859.62 1479.21,834.92 1481.05,846.26 1482.89,859.85 1484.73,829.14 1486.57,825.89 1488.41,855.54 1490.25,853.15 1492.09,836.85 1493.93,855.65 1495.77,877.69 1497.61,856.04 1499.45,869.42 1501.29,864.41 1503.13,837.33 1504.97,844.52 1506.81,862.36" fill="none" stroke="#0072BD" stroke-width="1.2" stroke-linejoin="round" clip-path="url(#cr3)"/>
<polyline points="906.9,1123.3 908.74,1118.05 910.58,1119.33 912.42,1119.68 914.26,1116.59 916.1,1122.6 917.94,1115.95 919.78,1115.95 921.62,1119.13 923.46,1108.19 925.3,1114.75 927.14,1097.54 928.98,1067.51 930.82,984.15 932.66,1041.01 934.5,1103.58 936.34,1104.49 938.18,1104.4 940.02,1122.92 941.86,1108.98 943.7,1115.24 945.54,1116.72 947.38,1111.02 949.22,1122.88 951.07,1111.92 952.91,1110.65 954.75,1091.98 956.59,1105.23 958.43,1120.94 960.27,1118.8 962.11,1119.38 963.95,1122.53 965.79,1118.98 967.63,1121.5 969.47,1120.76 971.31,1119 973.15,1121.59 974.99,1118.82 976.83,1119.48 978.67,1110.93 980.51,1114.28 982.35,1123.09 984.19,1120.55 986.03,1121.45 987.87,1122.3 989.71,1121.14 991.55,1122.55 993.39,1121.5 995.23,1121.83 997.07,1122.37 998.91,1121.91 1000.75,1122.45 1002.59,1118 1004.43,1116.11 1006.27,1123.09 1008.11,1119.86 1009.95,1121.84 1011.79,1121.86 1013.63,1120.78 1015.47,1122.95 1017.31,1121.09 1019.15,1121.55 1020.99,1122.37 1022.83,1120.43 1024.67,1122.33 1026.51,1118.15 1028.35,1121.03 1030.19,1123.12 1032.03,1122.59 1033.87,1122.61 1035.71,1122.47 1037.55,1122.22 1039.4,1123.21 1041.24,1122.06 1043.08,1122.58 1044.92,1122.69 1046.76,1122.24 1048.6,1123.26 1050.44,1121.88 1052.28,1119.78 1054.12,1122.18 1055.96,1121.34 1057.8,1122.91 1059.64,1122.01 1061.48,1122.07 1063.32,1122.96 1065.16,1121.69 1067,1122.71 1068.84,1122.13 1070.68,1122.03 1072.52,1123.08 1074.36,1121.04 1076.2,1121.21 1078.04,1122.53 1079.88,1121.93 1081.72,1123.21 1083.56,1122.15 1085.4,1122.44 1087.24,1122.63 1089.08,1122.16 1090.92,1122.98 1092.76,1122.22 1094.6,1122.3 1096.44,1122.84 1098.28,1121.55 1100.12,1121.9 1101.96,1122.46 1103.8,1122.57 1105.64,1123.04 1107.48,1122.34 1109.32,1122.8 1111.16,1122.72 1113,1122.4 1114.84,1123.2 1116.68,1122.53 1118.52,1122.68 1120.36,1122.95 1122.2,1122.75 1124.04,1121.83 1125.88,1121.91 1127.73,1122.24 1129.57,1122.73 1131.41,1122.23 1133.25,1122.91 1135.09,1122.42 1136.93,1122.41 1138.77,1123.1 1140.61,1122.17 1142.45,1122.86 1144.29,1122.55 1146.13,1122 1147.97,1122.25 1149.81,1122.98 1151.65,1122.88 1153.49,1123.02 1155.33,1122.5 1157.17,1123.18 1159.01,1122.64 1160.85,1122.69 1162.69,1123.01 1164.53,1122.56 1166.37,1123 1168.21,1122.68 1170.05,1122.77 1171.89,1122.66 1173.73,1122.06 1175.57,1122.88 1177.41,1122.56 1179.25,1122.58 1181.09,1123.21 1182.93,1122.49 1184.77,1122.81 1186.61,1122.82 1188.45,1122.51 1190.29,1123.16 1192.13,1122.6 1193.97,1122.67 1195.81,1122.49 1197.65,1122.43 1199.49,1123.02 1201.33,1122.6 1203.17,1122.69 1205.01,1123.07 1206.85,1122.54 1208.69,1123 1210.53,1122.77 1212.37,1122.59 1214.22,1123.2 1216.06,1122.53 1217.9,1122.85 1219.74,1122.5 1221.58,1122.76 1223.42,1123.22 1225.26,1122.81 1227.1,1122.79 1228.94,1123 1230.78,1122.66 1232.62,1123.14 1234.46,1122.75 1236.3,1122.83 1238.14,1123.13 1239.98,1122.7 1241.82,1123.09 1243.66,1123.1 1245.5,1122.31 1247.34,1123.19 1249.18,1122.47 1251.02,1123 1252.86,1122.87 1254.7,1122.64 1256.54,1123.23 1258.38,1122.65 1260.22,1122.84 1262.06,1122.91 1263.9,1122.63 1265.74,1123.14 1267.58,1122.43 1269.42,1123.11 1271.26,1123.13 1273.1,1122.79 1274.94,1123.06 1276.78,1122.84 1278.62,1122.82 1280.46,1123.18 1282.3,1122.75 1284.14,1123.02 1285.98,1122.95 1287.82,1122.76 1289.66,1123.25 1291.5,1122.88 1293.34,1122.69 1295.18,1122.91 1297.02,1122.7 1298.86,1123.15 1300.7,1122.79 1302.55,1122.86 1304.39,1123.07 1306.23,1122.71 1308.07,1123.14 1309.91,1122.83 1311.75,1122.84 1313.59,1123.18 1315.43,1122.7 1317.27,1122.86 1319.11,1122.92 1320.95,1122.72 1322.79,1123.21 1324.63,1122.77 1326.47,1122.99 1328.31,1122.98 1330.15,1122.78 1331.99,1123.22 1333.83,1122.79 1335.67,1122.9 1337.51,1123.03 1339.35,1122.68 1341.19,1123.13 1343.03,1122.92 1344.87,1122.97 1346.71,1123.21 1348.55,1122.79 1350.39,1123.1 1352.23,1122.95 1354.07,1122.85 1355.91,1123.22 1357.75,1122.86 1359.59,1123.02 1361.43,1123.03 1363.27,1122.93 1365.11,1123.03 1366.95,1122.72 1368.79,1122.89 1370.63,1122.97 1372.47,1122.82 1374.31,1123.18 1376.15,1122.86 1377.99,1122.9 1379.83,1123.14 1381.67,1122.77 1383.51,1123.14 1385.35,1122.92 1387.19,1122.8 1389.04,1123 1390.88,1122.94 1392.72,1123.07 1394.56,1123.05 1396.4,1122.84 1398.24,1123.27 1400.08,1122.88 1401.92,1123.01 1403.76,1123.07 1405.6,1122.86 1407.44,1123.21 1409.28,1122.9 1411.12,1122.99 1412.96,1123.15 1414.8,1122.78 1416.64,1123.17 1418.48,1122.93 1420.32,1122.92 1422.16,1123.22 1424,1122.85 1425.84,1123.08 1427.68,1122.99 1429.52,1122.89 1431.36,1123.23 1433.2,1122.9 1435.04,1123.02 1436.88,1123.02 1438.72,1122.83 1440.56,1123.21 1442.4,1122.86 1444.24,1123 1446.08,1123.11 1447.92,1122.87 1449.76,1123.18 1451.6,1122.96 1453.44,1122.93 1455.28,1123.18 1457.12,1122.86 1458.96,1123.1 1460.8,1122.91 1462.64,1123.01 1464.48,1123.23 1466.32,1122.97 1468.16,1123.03 1470,1123.07 1471.84,1122.91 1473.68,1123.26 1475.52,1122.94 1477.37,1123.03 1479.21,1123.15 1481.05,1122.91 1482.89,1123.21 1484.73,1123.07 1486.57,1122.85 1488.41,1123.18 1490.25,1122.83 1492.09,1123.17 1493.93,1123.01 1495.77,1122.94 1497.61,1123.24 1499.45,1122.9 1501.29,1123.07 1503.13,1123.03 1504.97,1122.93 1506.81,1123.25" fill="none" stroke="#0072BD" stroke-width="1.2" stroke-linejoin="round" clip-path="url(#cr4)"/>
<g fill="none" stroke="#C00000" stroke-width="2.3"><circle cx="996.6" cy="33.7" r="5.65"/><circle cx="1086.7" cy="48.2" r="5.65"/><circle cx="1177.2" cy="66.2" r="5.65"/><circle cx="1269.2" cy="84.4" r="5.65"/><circle cx="1360.1" cy="89.1" r="5.65"/><circle cx="1450.7" cy="94.9" r="5.65"/><circle cx="1048" cy="268" r="5.65"/><circle cx="1190.1" cy="289.6" r="5.65"/><circle cx="1332.3" cy="311.5" r="5.65"/><circle cx="1474.7" cy="331.5" r="5.65"/><circle cx="963.7" cy="520.1" r="5.65"/><circle cx="1020.8" cy="527.9" r="5.65"/><circle cx="1077.9" cy="538.1" r="5.65"/><circle cx="1135.5" cy="550.6" r="5.65"/><circle cx="1194" cy="553.3" r="5.65"/><circle cx="1251.5" cy="557" r="5.65"/><circle cx="1308.9" cy="559.1" r="5.65"/><circle cx="1366" cy="564.3" r="5.65"/><circle cx="1423.5" cy="570" r="5.65"/><circle cx="1480.4" cy="577.8" r="5.65"/></g>
<g><text x="112.5" y="214.7" text-anchor="middle">0</text><text x="232.05" y="214.7" text-anchor="middle">0.2</text><text x="352.65" y="214.7" text-anchor="middle">0.4</text><text x="473.25" y="214.7" text-anchor="middle">0.6</text><text x="593.85" y="214.7" text-anchor="middle">0.8</text><text x="715.5" y="214.7" text-anchor="middle">1</text><text x="906.9" y="214.7" text-anchor="middle">0</text><text x="1057.65" y="214.7" text-anchor="middle">50</text><text x="1208.4" y="214.7" text-anchor="middle">100</text><text x="1359.15" y="214.7" text-anchor="middle">150</text><text x="1509.9" y="214.7" text-anchor="middle">200</text><text x="86.08" y="23.65">3</text><text x="86.9" y="104.65">0</text><text x="72.12" y="185.65">-3</text><text x="851.27" y="23.65">0.1</text><text x="881.35" y="185.65">0</text><text x="112.5" y="448.9" text-anchor="middle">0</text><text x="232.05" y="448.9" text-anchor="middle">0.2</text><text x="352.65" y="448.9" text-anchor="middle">0.4</text><text x="473.25" y="448.9" text-anchor="middle">0.6</text><text x="593.85" y="448.9" text-anchor="middle">0.8</text><text x="715.5" y="448.9" text-anchor="middle">1</text><text x="906.9" y="448.9" text-anchor="middle">0</text><text x="1057.65" y="448.9" text-anchor="middle">50</text><text x="1208.4" y="448.9" text-anchor="middle">100</text><text x="1359.15" y="448.9" text-anchor="middle">150</text><text x="1509.9" y="448.9" text-anchor="middle">200</text><text x="86.08" y="257.85">3</text><text x="86.9" y="338.85">0</text><text x="72.12" y="419.85">-3</text><text x="851.27" y="257.85">0.1</text><text x="881.35" y="419.85">0</text><text x="112.5" y="686.8" text-anchor="middle">0</text><text x="232.05" y="686.8" text-anchor="middle">0.2</text><text x="352.65" y="686.8" text-anchor="middle">0.4</text><text x="473.25" y="686.8" text-anchor="middle">0.6</text><text x="593.85" y="686.8" text-anchor="middle">0.8</text><text x="715.5" y="686.8" text-anchor="middle">1</text><text x="906.9" y="686.8" text-anchor="middle">0</text><text x="1057.65" y="686.8" text-anchor="middle">50</text><text x="1208.4" y="686.8" text-anchor="middle">100</text><text x="1359.15" y="686.8" text-anchor="middle">150</text><text x="1509.9" y="686.8" text-anchor="middle">200</text><text x="86.1" y="495.45">5</text><text x="86.9" y="576.6">0</text><text x="72.28" y="657.75">-5</text><text x="833.9" y="495.45">0.07</text><text x="881.35" y="657.75">0</text><text x="112.5" y="927.9" text-anchor="middle">0</text><text x="232.05" y="927.9" text-anchor="middle">0.2</text><text x="352.65" y="927.9" text-anchor="middle">0.4</text><text x="473.25" y="927.9" text-anchor="middle">0.6</text><text x="593.85" y="927.9" text-anchor="middle">0.8</text><text x="715.5" y="927.9" text-anchor="middle">1</text><text x="906.9" y="927.9" text-anchor="middle">0</text><text x="1057.65" y="927.9" text-anchor="middle">50</text><text x="1208.4" y="927.9" text-anchor="middle">100</text><text x="1359.15" y="927.9" text-anchor="middle">150</text><text x="1509.9" y="927.9" text-anchor="middle">200</text><text x="86.47" y="733.55">4</text><text x="86.9" y="816.2">0</text><text x="72.12" y="898.85">-4</text><text x="815.85" y="733.55">0.015</text><text x="881.35" y="898.85">0</text><text x="112.5" y="1165.8" text-anchor="middle">0</text><text x="232.05" y="1165.8" text-anchor="middle">0.2</text><text x="352.65" y="1165.8" text-anchor="middle">0.4</text><text x="473.25" y="1165.8" text-anchor="middle">0.6</text><text x="593.85" y="1165.8" text-anchor="middle">0.8</text><text x="715.5" y="1165.8" text-anchor="middle">1</text><text x="906.9" y="1165.8" text-anchor="middle">0</text><text x="1057.65" y="1165.8" text-anchor="middle">50</text><text x="1208.4" y="1165.8" text-anchor="middle">100</text><text x="1359.15" y="1165.8" text-anchor="middle">150</text><text x="1509.9" y="1165.8" text-anchor="middle">200</text><text x="38.85" y="974.95">0.15</text><text x="86.9" y="1055.85">0</text><text x="28.33" y="1136.75">-0.15</text><text x="833.6" y="974.95">0.03</text><text x="881.35" y="1136.75">0</text></g>
<g><text transform="translate(1028.95,74.8) skewX(-7) scale(1,1)" font-size="54" font-style="italic" font-family="'DejaVu Serif', serif" fill="#000">f</text><text x="1052" y="88.4" font-size="34" font-style="italic" fill="#000">o</text><text x="1094.25" y="74" font-size="60" fill="#000" stroke="#000" stroke-width="0.8">2</text><text transform="translate(1130.45,74.8) skewX(-7) scale(1,1)" font-size="54" font-style="italic" font-family="'DejaVu Serif', serif" fill="#000">f</text><text x="1153.5" y="88.4" font-size="34" font-style="italic" fill="#000">o</text><text x="1184.05" y="74" font-size="48" fill="#000" letter-spacing="2.2">...</text><text x="1243.3" y="71.8" font-size="58" font-style="italic" fill="#000" stroke="#000" stroke-width="0.6">n</text><text x="1268.88" y="76.33" font-size="58" fill="#000">·</text><text transform="translate(1284.95,74.8) skewX(-7) scale(1,1)" font-size="54" font-style="italic" font-family="'DejaVu Serif', serif" fill="#000">f</text><text x="1308" y="88.4" font-size="34" font-style="italic" fill="#000">o</text><text transform="translate(1055.45,309.3) skewX(-7) scale(1,1)" font-size="54" font-style="italic" font-family="'DejaVu Serif', serif" fill="#000">f</text><text x="1077" y="322.9" font-size="34" font-style="italic" fill="#000">i</text><text x="1120.25" y="308.5" font-size="60" fill="#000" stroke="#000" stroke-width="0.8">2</text><text transform="translate(1156.35,309.3) skewX(-7) scale(1,1)" font-size="54" font-style="italic" font-family="'DejaVu Serif', serif" fill="#000">f</text><text x="1178" y="322.9" font-size="34" font-style="italic" fill="#000">i</text><text x="1202.25" y="308.5" font-size="48" fill="#000" letter-spacing="2.2">...</text><text x="1252.4" y="306.3" font-size="58" font-style="italic" fill="#000" stroke="#000" stroke-width="0.6">n</text><text x="1279.17" y="310.62" font-size="58" fill="#000">·</text><text transform="translate(1296.35,309.3) skewX(-7) scale(1,1)" font-size="54" font-style="italic" font-family="'DejaVu Serif', serif" fill="#000">f</text><text x="1318" y="322.9" font-size="34" font-style="italic" fill="#000">i</text><text transform="translate(1025.25,540.6) skewX(-7) scale(1,1)" font-size="54" font-style="italic" font-family="'DejaVu Serif', serif" fill="#000">f</text><text x="1047.15" y="554.2" font-size="34" font-style="italic" fill="#000">b</text><text x="1084.45" y="539.8" font-size="60" fill="#000" stroke="#000" stroke-width="0.8">2</text><text transform="translate(1119.75,540.6) skewX(-7) scale(1,1)" font-size="54" font-style="italic" font-family="'DejaVu Serif', serif" fill="#000">f</text><text x="1141.65" y="554.2" font-size="34" font-style="italic" fill="#000">b</text><text x="1168.75" y="539.8" font-size="48" fill="#000" letter-spacing="2.2">...</text><text x="1216.5" y="537.6" font-size="58" font-style="italic" fill="#000" stroke="#000" stroke-width="0.6">n</text><text x="1244.38" y="542.12" font-size="58" fill="#000">·</text><text transform="translate(1258.95,540.6) skewX(-7) scale(1,1)" font-size="54" font-style="italic" font-family="'DejaVu Serif', serif" fill="#000">f</text><text x="1281.25" y="554.2" font-size="34" font-style="italic" fill="#000">b</text></g>
<g><text x="350.65" y="1238.1" font-size="38" fill="#111">Time (s)</text><text x="1092.8" y="1238.1" font-size="37.7" fill="#111">Frequency (Hz)</text><text transform="translate(26.7,640.7) rotate(-90)" font-size="37.2" fill="#111">Amplitude</text><text transform="translate(1599.5,907.6) rotate(-90)" font-size="41.4" fill="#111">Channel 3</text></g>
</svg></body></html>
